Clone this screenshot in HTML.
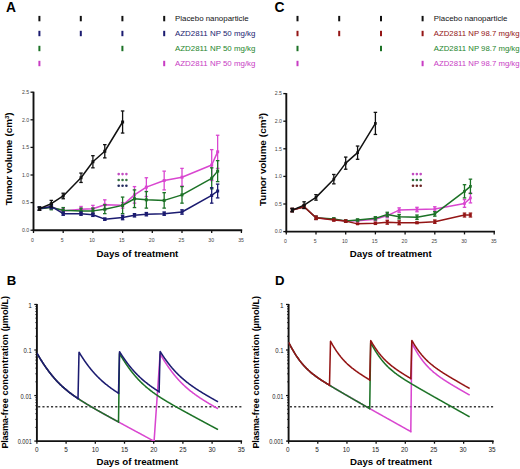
<!DOCTYPE html>
<html><head><meta charset="utf-8"><style>
html,body{margin:0;padding:0;background:#fff;}
body{width:520px;height:469px;overflow:hidden;font-family:"Liberation Sans", sans-serif;}
svg{display:block;}
</style></head><body>
<svg width="520" height="469" viewBox="0 0 520 469" font-family='"Liberation Sans", sans-serif'>
<rect width="520" height="469" fill="#fff"/>
<text x="6.00" y="11.90" font-size="13.8" fill="#000" font-weight="bold" text-anchor="start" >A</text>
<rect x="38.40" y="15.90" width="2.0" height="5.4" fill="#111111"/>
<rect x="79.80" y="15.90" width="2.0" height="5.4" fill="#111111"/>
<rect x="121.40" y="15.90" width="2.0" height="5.4" fill="#111111"/>
<rect x="163.20" y="15.90" width="2.0" height="5.4" fill="#111111"/>
<text x="175.00" y="21.40" font-size="7.9" fill="#111111" font-weight="normal" text-anchor="start" >Placebo nanoparticle</text>
<rect x="38.40" y="30.80" width="2.0" height="5.4" fill="#1b1b70"/>
<rect x="79.80" y="30.80" width="2.0" height="5.4" fill="#1b1b70"/>
<rect x="121.40" y="30.80" width="2.0" height="5.4" fill="#1b1b70"/>
<rect x="163.20" y="30.80" width="2.0" height="5.4" fill="#1b1b70"/>
<text x="175.00" y="36.30" font-size="7.9" fill="#1b1b70" font-weight="normal" text-anchor="start" >AZD2811 NP 50 mg/kg</text>
<rect x="38.40" y="45.80" width="2.0" height="5.4" fill="#1c7226"/>
<rect x="121.40" y="45.80" width="2.0" height="5.4" fill="#1c7226"/>
<text x="175.00" y="51.30" font-size="7.9" fill="#25852c" font-weight="normal" text-anchor="start" >AZD2811 NP 50 mg/kg</text>
<rect x="38.40" y="60.80" width="2.0" height="5.4" fill="#c83cc4"/>
<rect x="163.20" y="60.80" width="2.0" height="5.4" fill="#c83cc4"/>
<text x="175.00" y="66.30" font-size="7.9" fill="#c83cc4" font-weight="normal" text-anchor="start" >AZD2811 NP 50 mg/kg</text>
<line x1="33.50" y1="91.70" x2="33.50" y2="231.00" stroke="#111111" stroke-width="1.9" />
<line x1="32.70" y1="230.20" x2="242.20" y2="230.20" stroke="#111111" stroke-width="1.9" />
<line x1="30.50" y1="230.20" x2="33.50" y2="230.20" stroke="#111111" stroke-width="1.3" />
<text x="29.20" y="232.00" font-size="5.2" fill="#444444" font-weight="normal" text-anchor="end" >0.0</text>
<line x1="30.50" y1="202.60" x2="33.50" y2="202.60" stroke="#111111" stroke-width="1.3" />
<text x="29.20" y="204.40" font-size="5.2" fill="#444444" font-weight="normal" text-anchor="end" >0.5</text>
<line x1="30.50" y1="175.00" x2="33.50" y2="175.00" stroke="#111111" stroke-width="1.3" />
<text x="29.20" y="176.80" font-size="5.2" fill="#444444" font-weight="normal" text-anchor="end" >1.0</text>
<line x1="30.50" y1="147.40" x2="33.50" y2="147.40" stroke="#111111" stroke-width="1.3" />
<text x="29.20" y="149.20" font-size="5.2" fill="#444444" font-weight="normal" text-anchor="end" >1.5</text>
<line x1="30.50" y1="119.80" x2="33.50" y2="119.80" stroke="#111111" stroke-width="1.3" />
<text x="29.20" y="121.60" font-size="5.2" fill="#444444" font-weight="normal" text-anchor="end" >2.0</text>
<line x1="30.50" y1="92.20" x2="33.50" y2="92.20" stroke="#111111" stroke-width="1.3" />
<text x="29.20" y="94.00" font-size="5.2" fill="#444444" font-weight="normal" text-anchor="end" >2.5</text>
<line x1="33.50" y1="230.20" x2="33.50" y2="233.00" stroke="#111111" stroke-width="1.3" />
<text x="32.50" y="241.80" font-size="5.1" fill="#444444" font-weight="normal" text-anchor="middle" >0</text>
<line x1="63.20" y1="230.20" x2="63.20" y2="233.00" stroke="#111111" stroke-width="1.3" />
<text x="62.29" y="241.80" font-size="5.1" fill="#444444" font-weight="normal" text-anchor="middle" >5</text>
<line x1="92.90" y1="230.20" x2="92.90" y2="233.00" stroke="#111111" stroke-width="1.3" />
<text x="92.07" y="241.80" font-size="5.1" fill="#444444" font-weight="normal" text-anchor="middle" >10</text>
<line x1="122.60" y1="230.20" x2="122.60" y2="233.00" stroke="#111111" stroke-width="1.3" />
<text x="121.86" y="241.80" font-size="5.1" fill="#444444" font-weight="normal" text-anchor="middle" >15</text>
<line x1="152.30" y1="230.20" x2="152.30" y2="233.00" stroke="#111111" stroke-width="1.3" />
<text x="151.64" y="241.80" font-size="5.1" fill="#444444" font-weight="normal" text-anchor="middle" >20</text>
<line x1="182.00" y1="230.20" x2="182.00" y2="233.00" stroke="#111111" stroke-width="1.3" />
<text x="181.43" y="241.80" font-size="5.1" fill="#444444" font-weight="normal" text-anchor="middle" >25</text>
<line x1="211.70" y1="230.20" x2="211.70" y2="233.00" stroke="#111111" stroke-width="1.3" />
<text x="211.21" y="241.80" font-size="5.1" fill="#444444" font-weight="normal" text-anchor="middle" >30</text>
<line x1="241.40" y1="230.20" x2="241.40" y2="233.00" stroke="#111111" stroke-width="1.3" />
<text x="241.00" y="241.80" font-size="5.1" fill="#444444" font-weight="normal" text-anchor="middle" >35</text>
<polyline points="39.44,208.67 51.32,207.02 63.20,210.88 81.02,209.22 92.90,208.67 104.78,204.81 122.60,205.36 134.48,194.87 146.36,187.14 164.18,180.52 182.00,177.21 211.70,165.06 217.64,151.82" fill="none" stroke="#d946d0" stroke-width="1.5" stroke-linejoin="round" />
<line x1="39.44" y1="207.02" x2="39.44" y2="210.33" stroke="#d946d0" stroke-width="1.3" />
<line x1="37.69" y1="207.02" x2="41.19" y2="207.02" stroke="#d946d0" stroke-width="1.3" />
<line x1="37.69" y1="210.33" x2="41.19" y2="210.33" stroke="#d946d0" stroke-width="1.3" />
<rect x="37.94" y="207.17" width="3.0" height="3.0" fill="#d946d0"/>
<line x1="51.32" y1="204.81" x2="51.32" y2="209.22" stroke="#d946d0" stroke-width="1.3" />
<line x1="49.57" y1="204.81" x2="53.07" y2="204.81" stroke="#d946d0" stroke-width="1.3" />
<line x1="49.57" y1="209.22" x2="53.07" y2="209.22" stroke="#d946d0" stroke-width="1.3" />
<rect x="49.82" y="205.52" width="3.0" height="3.0" fill="#d946d0"/>
<line x1="63.20" y1="208.67" x2="63.20" y2="213.09" stroke="#d946d0" stroke-width="1.3" />
<line x1="61.45" y1="208.67" x2="64.95" y2="208.67" stroke="#d946d0" stroke-width="1.3" />
<line x1="61.45" y1="213.09" x2="64.95" y2="213.09" stroke="#d946d0" stroke-width="1.3" />
<rect x="61.70" y="209.38" width="3.0" height="3.0" fill="#d946d0"/>
<line x1="81.02" y1="206.46" x2="81.02" y2="211.98" stroke="#d946d0" stroke-width="1.3" />
<line x1="79.27" y1="206.46" x2="82.77" y2="206.46" stroke="#d946d0" stroke-width="1.3" />
<line x1="79.27" y1="211.98" x2="82.77" y2="211.98" stroke="#d946d0" stroke-width="1.3" />
<rect x="79.52" y="207.72" width="3.0" height="3.0" fill="#d946d0"/>
<line x1="92.90" y1="205.36" x2="92.90" y2="211.98" stroke="#d946d0" stroke-width="1.3" />
<line x1="91.15" y1="205.36" x2="94.65" y2="205.36" stroke="#d946d0" stroke-width="1.3" />
<line x1="91.15" y1="211.98" x2="94.65" y2="211.98" stroke="#d946d0" stroke-width="1.3" />
<rect x="91.40" y="207.17" width="3.0" height="3.0" fill="#d946d0"/>
<line x1="104.78" y1="199.84" x2="104.78" y2="209.78" stroke="#d946d0" stroke-width="1.3" />
<line x1="103.03" y1="199.84" x2="106.53" y2="199.84" stroke="#d946d0" stroke-width="1.3" />
<line x1="103.03" y1="209.78" x2="106.53" y2="209.78" stroke="#d946d0" stroke-width="1.3" />
<rect x="103.28" y="203.31" width="3.0" height="3.0" fill="#d946d0"/>
<line x1="122.60" y1="202.60" x2="122.60" y2="208.12" stroke="#d946d0" stroke-width="1.3" />
<line x1="120.85" y1="202.60" x2="124.35" y2="202.60" stroke="#d946d0" stroke-width="1.3" />
<line x1="120.85" y1="208.12" x2="124.35" y2="208.12" stroke="#d946d0" stroke-width="1.3" />
<rect x="121.10" y="203.86" width="3.0" height="3.0" fill="#d946d0"/>
<line x1="134.48" y1="186.59" x2="134.48" y2="203.15" stroke="#d946d0" stroke-width="1.3" />
<line x1="132.73" y1="186.59" x2="136.23" y2="186.59" stroke="#d946d0" stroke-width="1.3" />
<line x1="132.73" y1="203.15" x2="136.23" y2="203.15" stroke="#d946d0" stroke-width="1.3" />
<rect x="132.98" y="193.37" width="3.0" height="3.0" fill="#d946d0"/>
<line x1="146.36" y1="177.76" x2="146.36" y2="196.53" stroke="#d946d0" stroke-width="1.3" />
<line x1="144.61" y1="177.76" x2="148.11" y2="177.76" stroke="#d946d0" stroke-width="1.3" />
<line x1="144.61" y1="196.53" x2="148.11" y2="196.53" stroke="#d946d0" stroke-width="1.3" />
<rect x="144.86" y="185.64" width="3.0" height="3.0" fill="#d946d0"/>
<line x1="164.18" y1="171.14" x2="164.18" y2="189.90" stroke="#d946d0" stroke-width="1.3" />
<line x1="162.43" y1="171.14" x2="165.93" y2="171.14" stroke="#d946d0" stroke-width="1.3" />
<line x1="162.43" y1="189.90" x2="165.93" y2="189.90" stroke="#d946d0" stroke-width="1.3" />
<rect x="162.68" y="179.02" width="3.0" height="3.0" fill="#d946d0"/>
<line x1="182.00" y1="168.38" x2="182.00" y2="186.04" stroke="#d946d0" stroke-width="1.3" />
<line x1="180.25" y1="168.38" x2="183.75" y2="168.38" stroke="#d946d0" stroke-width="1.3" />
<line x1="180.25" y1="186.04" x2="183.75" y2="186.04" stroke="#d946d0" stroke-width="1.3" />
<rect x="180.50" y="175.71" width="3.0" height="3.0" fill="#d946d0"/>
<line x1="211.70" y1="149.61" x2="211.70" y2="180.52" stroke="#d946d0" stroke-width="1.3" />
<line x1="209.95" y1="149.61" x2="213.45" y2="149.61" stroke="#d946d0" stroke-width="1.3" />
<line x1="209.95" y1="180.52" x2="213.45" y2="180.52" stroke="#d946d0" stroke-width="1.3" />
<rect x="210.20" y="163.56" width="3.0" height="3.0" fill="#d946d0"/>
<line x1="217.64" y1="135.26" x2="217.64" y2="168.38" stroke="#d946d0" stroke-width="1.3" />
<line x1="215.89" y1="135.26" x2="219.39" y2="135.26" stroke="#d946d0" stroke-width="1.3" />
<line x1="215.89" y1="168.38" x2="219.39" y2="168.38" stroke="#d946d0" stroke-width="1.3" />
<rect x="216.14" y="150.32" width="3.0" height="3.0" fill="#d946d0"/>
<polyline points="39.44,208.67 51.32,207.57 63.20,210.33 81.02,210.88 92.90,210.88 104.78,209.22 122.60,205.36 134.48,198.74 146.36,199.84 164.18,200.39 182.00,194.87 211.70,178.31 217.64,171.14" fill="none" stroke="#1c7226" stroke-width="1.5" stroke-linejoin="round" />
<line x1="39.44" y1="207.02" x2="39.44" y2="210.33" stroke="#1c7226" stroke-width="1.3" />
<line x1="37.69" y1="207.02" x2="41.19" y2="207.02" stroke="#1c7226" stroke-width="1.3" />
<line x1="37.69" y1="210.33" x2="41.19" y2="210.33" stroke="#1c7226" stroke-width="1.3" />
<rect x="37.94" y="207.17" width="3.0" height="3.0" fill="#1c7226"/>
<line x1="51.32" y1="205.36" x2="51.32" y2="209.78" stroke="#1c7226" stroke-width="1.3" />
<line x1="49.57" y1="205.36" x2="53.07" y2="205.36" stroke="#1c7226" stroke-width="1.3" />
<line x1="49.57" y1="209.78" x2="53.07" y2="209.78" stroke="#1c7226" stroke-width="1.3" />
<rect x="49.82" y="206.07" width="3.0" height="3.0" fill="#1c7226"/>
<line x1="63.20" y1="207.57" x2="63.20" y2="213.09" stroke="#1c7226" stroke-width="1.3" />
<line x1="61.45" y1="207.57" x2="64.95" y2="207.57" stroke="#1c7226" stroke-width="1.3" />
<line x1="61.45" y1="213.09" x2="64.95" y2="213.09" stroke="#1c7226" stroke-width="1.3" />
<rect x="61.70" y="208.83" width="3.0" height="3.0" fill="#1c7226"/>
<line x1="81.02" y1="208.12" x2="81.02" y2="213.64" stroke="#1c7226" stroke-width="1.3" />
<line x1="79.27" y1="208.12" x2="82.77" y2="208.12" stroke="#1c7226" stroke-width="1.3" />
<line x1="79.27" y1="213.64" x2="82.77" y2="213.64" stroke="#1c7226" stroke-width="1.3" />
<rect x="79.52" y="209.38" width="3.0" height="3.0" fill="#1c7226"/>
<line x1="92.90" y1="208.12" x2="92.90" y2="213.64" stroke="#1c7226" stroke-width="1.3" />
<line x1="91.15" y1="208.12" x2="94.65" y2="208.12" stroke="#1c7226" stroke-width="1.3" />
<line x1="91.15" y1="213.64" x2="94.65" y2="213.64" stroke="#1c7226" stroke-width="1.3" />
<rect x="91.40" y="209.38" width="3.0" height="3.0" fill="#1c7226"/>
<line x1="104.78" y1="204.81" x2="104.78" y2="213.64" stroke="#1c7226" stroke-width="1.3" />
<line x1="103.03" y1="204.81" x2="106.53" y2="204.81" stroke="#1c7226" stroke-width="1.3" />
<line x1="103.03" y1="213.64" x2="106.53" y2="213.64" stroke="#1c7226" stroke-width="1.3" />
<rect x="103.28" y="207.72" width="3.0" height="3.0" fill="#1c7226"/>
<line x1="122.60" y1="197.08" x2="122.60" y2="213.64" stroke="#1c7226" stroke-width="1.3" />
<line x1="120.85" y1="197.08" x2="124.35" y2="197.08" stroke="#1c7226" stroke-width="1.3" />
<line x1="120.85" y1="213.64" x2="124.35" y2="213.64" stroke="#1c7226" stroke-width="1.3" />
<rect x="121.10" y="203.86" width="3.0" height="3.0" fill="#1c7226"/>
<line x1="134.48" y1="189.90" x2="134.48" y2="207.57" stroke="#1c7226" stroke-width="1.3" />
<line x1="132.73" y1="189.90" x2="136.23" y2="189.90" stroke="#1c7226" stroke-width="1.3" />
<line x1="132.73" y1="207.57" x2="136.23" y2="207.57" stroke="#1c7226" stroke-width="1.3" />
<rect x="132.98" y="197.24" width="3.0" height="3.0" fill="#1c7226"/>
<line x1="146.36" y1="191.56" x2="146.36" y2="208.12" stroke="#1c7226" stroke-width="1.3" />
<line x1="144.61" y1="191.56" x2="148.11" y2="191.56" stroke="#1c7226" stroke-width="1.3" />
<line x1="144.61" y1="208.12" x2="148.11" y2="208.12" stroke="#1c7226" stroke-width="1.3" />
<rect x="144.86" y="198.34" width="3.0" height="3.0" fill="#1c7226"/>
<line x1="164.18" y1="192.66" x2="164.18" y2="208.12" stroke="#1c7226" stroke-width="1.3" />
<line x1="162.43" y1="192.66" x2="165.93" y2="192.66" stroke="#1c7226" stroke-width="1.3" />
<line x1="162.43" y1="208.12" x2="165.93" y2="208.12" stroke="#1c7226" stroke-width="1.3" />
<rect x="162.68" y="198.89" width="3.0" height="3.0" fill="#1c7226"/>
<line x1="182.00" y1="186.59" x2="182.00" y2="203.15" stroke="#1c7226" stroke-width="1.3" />
<line x1="180.25" y1="186.59" x2="183.75" y2="186.59" stroke="#1c7226" stroke-width="1.3" />
<line x1="180.25" y1="203.15" x2="183.75" y2="203.15" stroke="#1c7226" stroke-width="1.3" />
<rect x="180.50" y="193.37" width="3.0" height="3.0" fill="#1c7226"/>
<line x1="211.70" y1="167.82" x2="211.70" y2="188.80" stroke="#1c7226" stroke-width="1.3" />
<line x1="209.95" y1="167.82" x2="213.45" y2="167.82" stroke="#1c7226" stroke-width="1.3" />
<line x1="209.95" y1="188.80" x2="213.45" y2="188.80" stroke="#1c7226" stroke-width="1.3" />
<rect x="210.20" y="176.81" width="3.0" height="3.0" fill="#1c7226"/>
<line x1="217.64" y1="160.65" x2="217.64" y2="181.62" stroke="#1c7226" stroke-width="1.3" />
<line x1="215.89" y1="160.65" x2="219.39" y2="160.65" stroke="#1c7226" stroke-width="1.3" />
<line x1="215.89" y1="181.62" x2="219.39" y2="181.62" stroke="#1c7226" stroke-width="1.3" />
<rect x="216.14" y="169.64" width="3.0" height="3.0" fill="#1c7226"/>
<polyline points="39.44,208.67 51.32,206.46 63.20,213.64 81.02,213.64 92.90,214.74 104.78,219.16 122.60,217.50 134.48,215.30 146.36,214.19 164.18,213.64 182.00,211.98 211.70,195.42 217.64,191.01" fill="none" stroke="#1b1b70" stroke-width="1.5" stroke-linejoin="round" />
<line x1="39.44" y1="207.02" x2="39.44" y2="210.33" stroke="#1b1b70" stroke-width="1.3" />
<line x1="37.69" y1="207.02" x2="41.19" y2="207.02" stroke="#1b1b70" stroke-width="1.3" />
<line x1="37.69" y1="210.33" x2="41.19" y2="210.33" stroke="#1b1b70" stroke-width="1.3" />
<rect x="37.94" y="207.17" width="3.0" height="3.0" fill="#1b1b70"/>
<line x1="51.32" y1="204.26" x2="51.32" y2="208.67" stroke="#1b1b70" stroke-width="1.3" />
<line x1="49.57" y1="204.26" x2="53.07" y2="204.26" stroke="#1b1b70" stroke-width="1.3" />
<line x1="49.57" y1="208.67" x2="53.07" y2="208.67" stroke="#1b1b70" stroke-width="1.3" />
<rect x="49.82" y="204.96" width="3.0" height="3.0" fill="#1b1b70"/>
<line x1="63.20" y1="211.98" x2="63.20" y2="215.30" stroke="#1b1b70" stroke-width="1.3" />
<line x1="61.45" y1="211.98" x2="64.95" y2="211.98" stroke="#1b1b70" stroke-width="1.3" />
<line x1="61.45" y1="215.30" x2="64.95" y2="215.30" stroke="#1b1b70" stroke-width="1.3" />
<rect x="61.70" y="212.14" width="3.0" height="3.0" fill="#1b1b70"/>
<line x1="81.02" y1="211.98" x2="81.02" y2="215.30" stroke="#1b1b70" stroke-width="1.3" />
<line x1="79.27" y1="211.98" x2="82.77" y2="211.98" stroke="#1b1b70" stroke-width="1.3" />
<line x1="79.27" y1="215.30" x2="82.77" y2="215.30" stroke="#1b1b70" stroke-width="1.3" />
<rect x="79.52" y="212.14" width="3.0" height="3.0" fill="#1b1b70"/>
<line x1="92.90" y1="213.09" x2="92.90" y2="216.40" stroke="#1b1b70" stroke-width="1.3" />
<line x1="91.15" y1="213.09" x2="94.65" y2="213.09" stroke="#1b1b70" stroke-width="1.3" />
<line x1="91.15" y1="216.40" x2="94.65" y2="216.40" stroke="#1b1b70" stroke-width="1.3" />
<rect x="91.40" y="213.24" width="3.0" height="3.0" fill="#1b1b70"/>
<line x1="104.78" y1="218.06" x2="104.78" y2="220.26" stroke="#1b1b70" stroke-width="1.3" />
<line x1="103.03" y1="218.06" x2="106.53" y2="218.06" stroke="#1b1b70" stroke-width="1.3" />
<line x1="103.03" y1="220.26" x2="106.53" y2="220.26" stroke="#1b1b70" stroke-width="1.3" />
<rect x="103.28" y="217.66" width="3.0" height="3.0" fill="#1b1b70"/>
<line x1="122.60" y1="215.30" x2="122.60" y2="219.71" stroke="#1b1b70" stroke-width="1.3" />
<line x1="120.85" y1="215.30" x2="124.35" y2="215.30" stroke="#1b1b70" stroke-width="1.3" />
<line x1="120.85" y1="219.71" x2="124.35" y2="219.71" stroke="#1b1b70" stroke-width="1.3" />
<rect x="121.10" y="216.00" width="3.0" height="3.0" fill="#1b1b70"/>
<line x1="134.48" y1="213.64" x2="134.48" y2="216.95" stroke="#1b1b70" stroke-width="1.3" />
<line x1="132.73" y1="213.64" x2="136.23" y2="213.64" stroke="#1b1b70" stroke-width="1.3" />
<line x1="132.73" y1="216.95" x2="136.23" y2="216.95" stroke="#1b1b70" stroke-width="1.3" />
<rect x="132.98" y="213.80" width="3.0" height="3.0" fill="#1b1b70"/>
<line x1="146.36" y1="212.54" x2="146.36" y2="215.85" stroke="#1b1b70" stroke-width="1.3" />
<line x1="144.61" y1="212.54" x2="148.11" y2="212.54" stroke="#1b1b70" stroke-width="1.3" />
<line x1="144.61" y1="215.85" x2="148.11" y2="215.85" stroke="#1b1b70" stroke-width="1.3" />
<rect x="144.86" y="212.69" width="3.0" height="3.0" fill="#1b1b70"/>
<line x1="164.18" y1="211.98" x2="164.18" y2="215.30" stroke="#1b1b70" stroke-width="1.3" />
<line x1="162.43" y1="211.98" x2="165.93" y2="211.98" stroke="#1b1b70" stroke-width="1.3" />
<line x1="162.43" y1="215.30" x2="165.93" y2="215.30" stroke="#1b1b70" stroke-width="1.3" />
<rect x="162.68" y="212.14" width="3.0" height="3.0" fill="#1b1b70"/>
<line x1="182.00" y1="209.78" x2="182.00" y2="214.19" stroke="#1b1b70" stroke-width="1.3" />
<line x1="180.25" y1="209.78" x2="183.75" y2="209.78" stroke="#1b1b70" stroke-width="1.3" />
<line x1="180.25" y1="214.19" x2="183.75" y2="214.19" stroke="#1b1b70" stroke-width="1.3" />
<rect x="180.50" y="210.48" width="3.0" height="3.0" fill="#1b1b70"/>
<line x1="211.70" y1="187.70" x2="211.70" y2="203.15" stroke="#1b1b70" stroke-width="1.3" />
<line x1="209.95" y1="187.70" x2="213.45" y2="187.70" stroke="#1b1b70" stroke-width="1.3" />
<line x1="209.95" y1="203.15" x2="213.45" y2="203.15" stroke="#1b1b70" stroke-width="1.3" />
<rect x="210.20" y="193.92" width="3.0" height="3.0" fill="#1b1b70"/>
<line x1="217.64" y1="184.11" x2="217.64" y2="197.91" stroke="#1b1b70" stroke-width="1.3" />
<line x1="215.89" y1="184.11" x2="219.39" y2="184.11" stroke="#1b1b70" stroke-width="1.3" />
<line x1="215.89" y1="197.91" x2="219.39" y2="197.91" stroke="#1b1b70" stroke-width="1.3" />
<rect x="216.14" y="189.51" width="3.0" height="3.0" fill="#1b1b70"/>
<polyline points="39.44,208.67 51.32,203.70 63.20,195.98 81.02,177.76 92.90,161.75 104.78,151.26 122.60,122.01" fill="none" stroke="#111111" stroke-width="1.5" stroke-linejoin="round" />
<line x1="39.44" y1="207.02" x2="39.44" y2="210.33" stroke="#111111" stroke-width="1.3" />
<line x1="37.69" y1="207.02" x2="41.19" y2="207.02" stroke="#111111" stroke-width="1.3" />
<line x1="37.69" y1="210.33" x2="41.19" y2="210.33" stroke="#111111" stroke-width="1.3" />
<rect x="37.94" y="207.17" width="3.0" height="3.0" fill="#111111"/>
<line x1="51.32" y1="200.39" x2="51.32" y2="207.02" stroke="#111111" stroke-width="1.3" />
<line x1="49.57" y1="200.39" x2="53.07" y2="200.39" stroke="#111111" stroke-width="1.3" />
<line x1="49.57" y1="207.02" x2="53.07" y2="207.02" stroke="#111111" stroke-width="1.3" />
<rect x="49.82" y="202.20" width="3.0" height="3.0" fill="#111111"/>
<line x1="63.20" y1="193.22" x2="63.20" y2="198.74" stroke="#111111" stroke-width="1.3" />
<line x1="61.45" y1="193.22" x2="64.95" y2="193.22" stroke="#111111" stroke-width="1.3" />
<line x1="61.45" y1="198.74" x2="64.95" y2="198.74" stroke="#111111" stroke-width="1.3" />
<rect x="61.70" y="194.48" width="3.0" height="3.0" fill="#111111"/>
<line x1="81.02" y1="173.07" x2="81.02" y2="182.45" stroke="#111111" stroke-width="1.3" />
<line x1="79.27" y1="173.07" x2="82.77" y2="173.07" stroke="#111111" stroke-width="1.3" />
<line x1="79.27" y1="182.45" x2="82.77" y2="182.45" stroke="#111111" stroke-width="1.3" />
<rect x="79.52" y="176.26" width="3.0" height="3.0" fill="#111111"/>
<line x1="92.90" y1="155.68" x2="92.90" y2="167.82" stroke="#111111" stroke-width="1.3" />
<line x1="91.15" y1="155.68" x2="94.65" y2="155.68" stroke="#111111" stroke-width="1.3" />
<line x1="91.15" y1="167.82" x2="94.65" y2="167.82" stroke="#111111" stroke-width="1.3" />
<rect x="91.40" y="160.25" width="3.0" height="3.0" fill="#111111"/>
<line x1="104.78" y1="144.64" x2="104.78" y2="157.89" stroke="#111111" stroke-width="1.3" />
<line x1="103.03" y1="144.64" x2="106.53" y2="144.64" stroke="#111111" stroke-width="1.3" />
<line x1="103.03" y1="157.89" x2="106.53" y2="157.89" stroke="#111111" stroke-width="1.3" />
<rect x="103.28" y="149.76" width="3.0" height="3.0" fill="#111111"/>
<line x1="122.60" y1="110.97" x2="122.60" y2="133.05" stroke="#111111" stroke-width="1.3" />
<line x1="120.85" y1="110.97" x2="124.35" y2="110.97" stroke="#111111" stroke-width="1.3" />
<line x1="120.85" y1="133.05" x2="124.35" y2="133.05" stroke="#111111" stroke-width="1.3" />
<rect x="121.10" y="120.51" width="3.0" height="3.0" fill="#111111"/>
<circle cx="118.70" cy="174.10" r="1.3" fill="#c24cc2"/>
<circle cx="122.55" cy="174.10" r="1.3" fill="#c24cc2"/>
<circle cx="126.40" cy="174.10" r="1.3" fill="#c24cc2"/>
<circle cx="118.70" cy="179.95" r="1.3" fill="#3a7446"/>
<circle cx="122.55" cy="179.95" r="1.3" fill="#3a7446"/>
<circle cx="126.40" cy="179.95" r="1.3" fill="#3a7446"/>
<circle cx="118.70" cy="185.80" r="1.3" fill="#222a5e"/>
<circle cx="122.55" cy="185.80" r="1.3" fill="#222a5e"/>
<circle cx="126.40" cy="185.80" r="1.3" fill="#222a5e"/>
<text x="137.45" y="256.50" font-size="9.7" fill="#000" font-weight="bold" text-anchor="middle" >Days of treatment</text>
<text transform="translate(11.9,205.3) rotate(-90)" font-size="9.9" font-weight="bold"><tspan letter-spacing="-0.15">Tumor volume</tspan><tspan dx="0.5"> (cm</tspan><tspan dy="-3" font-size="6">3</tspan><tspan dy="3">)</tspan></text>
<text x="274.60" y="11.90" font-size="13.8" fill="#000" font-weight="bold" text-anchor="start" >C</text>
<rect x="296.50" y="15.90" width="2.0" height="5.4" fill="#111111"/>
<rect x="338.20" y="15.90" width="2.0" height="5.4" fill="#111111"/>
<rect x="380.00" y="15.90" width="2.0" height="5.4" fill="#111111"/>
<rect x="421.60" y="15.90" width="2.0" height="5.4" fill="#111111"/>
<text x="433.80" y="21.40" font-size="7.9" fill="#111111" font-weight="normal" text-anchor="start" >Placebo nanoparticle</text>
<rect x="296.50" y="30.80" width="2.0" height="5.4" fill="#941515"/>
<rect x="338.20" y="30.80" width="2.0" height="5.4" fill="#941515"/>
<rect x="380.00" y="30.80" width="2.0" height="5.4" fill="#941515"/>
<rect x="421.60" y="30.80" width="2.0" height="5.4" fill="#941515"/>
<text x="433.80" y="36.30" font-size="7.9" fill="#941515" font-weight="normal" text-anchor="start" textLength="85.8" lengthAdjust="spacingAndGlyphs">AZD2811 NP 98.7 mg/kg</text>
<rect x="296.50" y="45.80" width="2.0" height="5.4" fill="#1c7226"/>
<rect x="380.00" y="45.80" width="2.0" height="5.4" fill="#1c7226"/>
<text x="433.80" y="51.30" font-size="7.9" fill="#25852c" font-weight="normal" text-anchor="start" textLength="85.8" lengthAdjust="spacingAndGlyphs">AZD2811 NP 98.7 mg/kg</text>
<rect x="296.50" y="60.80" width="2.0" height="5.4" fill="#c83cc4"/>
<rect x="421.60" y="60.80" width="2.0" height="5.4" fill="#c83cc4"/>
<text x="433.80" y="66.30" font-size="7.9" fill="#c83cc4" font-weight="normal" text-anchor="start" textLength="85.8" lengthAdjust="spacingAndGlyphs">AZD2811 NP 98.7 mg/kg</text>
<line x1="286.30" y1="93.10" x2="286.30" y2="232.40" stroke="#111111" stroke-width="1.9" />
<line x1="285.50" y1="231.60" x2="495.00" y2="231.60" stroke="#111111" stroke-width="1.9" />
<line x1="283.30" y1="231.60" x2="286.30" y2="231.60" stroke="#111111" stroke-width="1.3" />
<text x="282.00" y="233.40" font-size="5.2" fill="#444444" font-weight="normal" text-anchor="end" >0.0</text>
<line x1="283.30" y1="204.00" x2="286.30" y2="204.00" stroke="#111111" stroke-width="1.3" />
<text x="282.00" y="205.80" font-size="5.2" fill="#444444" font-weight="normal" text-anchor="end" >0.5</text>
<line x1="283.30" y1="176.40" x2="286.30" y2="176.40" stroke="#111111" stroke-width="1.3" />
<text x="282.00" y="178.20" font-size="5.2" fill="#444444" font-weight="normal" text-anchor="end" >1.0</text>
<line x1="283.30" y1="148.80" x2="286.30" y2="148.80" stroke="#111111" stroke-width="1.3" />
<text x="282.00" y="150.60" font-size="5.2" fill="#444444" font-weight="normal" text-anchor="end" >1.5</text>
<line x1="283.30" y1="121.20" x2="286.30" y2="121.20" stroke="#111111" stroke-width="1.3" />
<text x="282.00" y="123.00" font-size="5.2" fill="#444444" font-weight="normal" text-anchor="end" >2.0</text>
<line x1="283.30" y1="93.60" x2="286.30" y2="93.60" stroke="#111111" stroke-width="1.3" />
<text x="282.00" y="95.40" font-size="5.2" fill="#444444" font-weight="normal" text-anchor="end" >2.5</text>
<line x1="286.30" y1="231.60" x2="286.30" y2="234.40" stroke="#111111" stroke-width="1.3" />
<text x="285.30" y="243.20" font-size="5.1" fill="#444444" font-weight="normal" text-anchor="middle" >0</text>
<line x1="316.00" y1="231.60" x2="316.00" y2="234.40" stroke="#111111" stroke-width="1.3" />
<text x="315.08" y="243.20" font-size="5.1" fill="#444444" font-weight="normal" text-anchor="middle" >5</text>
<line x1="345.70" y1="231.60" x2="345.70" y2="234.40" stroke="#111111" stroke-width="1.3" />
<text x="344.87" y="243.20" font-size="5.1" fill="#444444" font-weight="normal" text-anchor="middle" >10</text>
<line x1="375.40" y1="231.60" x2="375.40" y2="234.40" stroke="#111111" stroke-width="1.3" />
<text x="374.66" y="243.20" font-size="5.1" fill="#444444" font-weight="normal" text-anchor="middle" >15</text>
<line x1="405.10" y1="231.60" x2="405.10" y2="234.40" stroke="#111111" stroke-width="1.3" />
<text x="404.44" y="243.20" font-size="5.1" fill="#444444" font-weight="normal" text-anchor="middle" >20</text>
<line x1="434.80" y1="231.60" x2="434.80" y2="234.40" stroke="#111111" stroke-width="1.3" />
<text x="434.23" y="243.20" font-size="5.1" fill="#444444" font-weight="normal" text-anchor="middle" >25</text>
<line x1="464.50" y1="231.60" x2="464.50" y2="234.40" stroke="#111111" stroke-width="1.3" />
<text x="464.01" y="243.20" font-size="5.1" fill="#444444" font-weight="normal" text-anchor="middle" >30</text>
<line x1="494.20" y1="231.60" x2="494.20" y2="234.40" stroke="#111111" stroke-width="1.3" />
<text x="493.80" y="243.20" font-size="5.1" fill="#444444" font-weight="normal" text-anchor="middle" >35</text>
<polyline points="292.24,210.07 304.12,206.76 316.00,217.80 333.82,219.46 345.70,221.11 357.58,220.84 375.40,219.18 387.28,215.59 399.16,210.07 416.98,209.52 434.80,208.97 464.50,203.45 470.44,197.93" fill="none" stroke="#d946d0" stroke-width="1.5" stroke-linejoin="round" />
<line x1="292.24" y1="208.42" x2="292.24" y2="211.73" stroke="#d946d0" stroke-width="1.3" />
<line x1="290.49" y1="208.42" x2="293.99" y2="208.42" stroke="#d946d0" stroke-width="1.3" />
<line x1="290.49" y1="211.73" x2="293.99" y2="211.73" stroke="#d946d0" stroke-width="1.3" />
<rect x="290.89" y="208.72" width="2.7" height="2.7" fill="#d946d0"/>
<line x1="304.12" y1="205.10" x2="304.12" y2="208.42" stroke="#d946d0" stroke-width="1.3" />
<line x1="302.37" y1="205.10" x2="305.87" y2="205.10" stroke="#d946d0" stroke-width="1.3" />
<line x1="302.37" y1="208.42" x2="305.87" y2="208.42" stroke="#d946d0" stroke-width="1.3" />
<rect x="302.77" y="205.41" width="2.7" height="2.7" fill="#d946d0"/>
<line x1="316.00" y1="216.14" x2="316.00" y2="219.46" stroke="#d946d0" stroke-width="1.3" />
<line x1="314.25" y1="216.14" x2="317.75" y2="216.14" stroke="#d946d0" stroke-width="1.3" />
<line x1="314.25" y1="219.46" x2="317.75" y2="219.46" stroke="#d946d0" stroke-width="1.3" />
<rect x="314.65" y="216.45" width="2.7" height="2.7" fill="#d946d0"/>
<line x1="333.82" y1="218.35" x2="333.82" y2="220.56" stroke="#d946d0" stroke-width="1.3" />
<line x1="332.07" y1="218.35" x2="335.57" y2="218.35" stroke="#d946d0" stroke-width="1.3" />
<line x1="332.07" y1="220.56" x2="335.57" y2="220.56" stroke="#d946d0" stroke-width="1.3" />
<rect x="332.47" y="218.11" width="2.7" height="2.7" fill="#d946d0"/>
<line x1="345.70" y1="220.01" x2="345.70" y2="222.22" stroke="#d946d0" stroke-width="1.3" />
<line x1="343.95" y1="220.01" x2="347.45" y2="220.01" stroke="#d946d0" stroke-width="1.3" />
<line x1="343.95" y1="222.22" x2="347.45" y2="222.22" stroke="#d946d0" stroke-width="1.3" />
<rect x="344.35" y="219.76" width="2.7" height="2.7" fill="#d946d0"/>
<line x1="357.58" y1="219.73" x2="357.58" y2="221.94" stroke="#d946d0" stroke-width="1.3" />
<line x1="355.83" y1="219.73" x2="359.33" y2="219.73" stroke="#d946d0" stroke-width="1.3" />
<line x1="355.83" y1="221.94" x2="359.33" y2="221.94" stroke="#d946d0" stroke-width="1.3" />
<rect x="356.23" y="219.49" width="2.7" height="2.7" fill="#d946d0"/>
<line x1="375.40" y1="217.52" x2="375.40" y2="220.84" stroke="#d946d0" stroke-width="1.3" />
<line x1="373.65" y1="217.52" x2="377.15" y2="217.52" stroke="#d946d0" stroke-width="1.3" />
<line x1="373.65" y1="220.84" x2="377.15" y2="220.84" stroke="#d946d0" stroke-width="1.3" />
<rect x="374.05" y="217.83" width="2.7" height="2.7" fill="#d946d0"/>
<line x1="387.28" y1="213.38" x2="387.28" y2="217.80" stroke="#d946d0" stroke-width="1.3" />
<line x1="385.53" y1="213.38" x2="389.03" y2="213.38" stroke="#d946d0" stroke-width="1.3" />
<line x1="385.53" y1="217.80" x2="389.03" y2="217.80" stroke="#d946d0" stroke-width="1.3" />
<rect x="385.93" y="214.24" width="2.7" height="2.7" fill="#d946d0"/>
<line x1="399.16" y1="207.86" x2="399.16" y2="212.28" stroke="#d946d0" stroke-width="1.3" />
<line x1="397.41" y1="207.86" x2="400.91" y2="207.86" stroke="#d946d0" stroke-width="1.3" />
<line x1="397.41" y1="212.28" x2="400.91" y2="212.28" stroke="#d946d0" stroke-width="1.3" />
<rect x="397.81" y="208.72" width="2.7" height="2.7" fill="#d946d0"/>
<line x1="416.98" y1="207.31" x2="416.98" y2="211.73" stroke="#d946d0" stroke-width="1.3" />
<line x1="415.23" y1="207.31" x2="418.73" y2="207.31" stroke="#d946d0" stroke-width="1.3" />
<line x1="415.23" y1="211.73" x2="418.73" y2="211.73" stroke="#d946d0" stroke-width="1.3" />
<rect x="415.63" y="208.17" width="2.7" height="2.7" fill="#d946d0"/>
<line x1="434.80" y1="206.76" x2="434.80" y2="211.18" stroke="#d946d0" stroke-width="1.3" />
<line x1="433.05" y1="206.76" x2="436.55" y2="206.76" stroke="#d946d0" stroke-width="1.3" />
<line x1="433.05" y1="211.18" x2="436.55" y2="211.18" stroke="#d946d0" stroke-width="1.3" />
<rect x="433.45" y="207.62" width="2.7" height="2.7" fill="#d946d0"/>
<line x1="464.50" y1="199.58" x2="464.50" y2="207.31" stroke="#d946d0" stroke-width="1.3" />
<line x1="462.75" y1="199.58" x2="466.25" y2="199.58" stroke="#d946d0" stroke-width="1.3" />
<line x1="462.75" y1="207.31" x2="466.25" y2="207.31" stroke="#d946d0" stroke-width="1.3" />
<rect x="463.15" y="202.10" width="2.7" height="2.7" fill="#d946d0"/>
<line x1="470.44" y1="192.96" x2="470.44" y2="202.90" stroke="#d946d0" stroke-width="1.3" />
<line x1="468.69" y1="192.96" x2="472.19" y2="192.96" stroke="#d946d0" stroke-width="1.3" />
<line x1="468.69" y1="202.90" x2="472.19" y2="202.90" stroke="#d946d0" stroke-width="1.3" />
<rect x="469.09" y="196.58" width="2.7" height="2.7" fill="#d946d0"/>
<polyline points="292.24,210.07 304.12,206.76 316.00,217.80 333.82,218.90 345.70,221.11 357.58,220.01 375.40,218.35 387.28,214.49 399.16,216.70 416.98,217.25 434.80,213.94 464.50,191.30 470.44,186.34" fill="none" stroke="#1c7226" stroke-width="1.5" stroke-linejoin="round" />
<line x1="292.24" y1="208.42" x2="292.24" y2="211.73" stroke="#1c7226" stroke-width="1.3" />
<line x1="290.49" y1="208.42" x2="293.99" y2="208.42" stroke="#1c7226" stroke-width="1.3" />
<line x1="290.49" y1="211.73" x2="293.99" y2="211.73" stroke="#1c7226" stroke-width="1.3" />
<rect x="290.89" y="208.72" width="2.7" height="2.7" fill="#1c7226"/>
<line x1="304.12" y1="205.10" x2="304.12" y2="208.42" stroke="#1c7226" stroke-width="1.3" />
<line x1="302.37" y1="205.10" x2="305.87" y2="205.10" stroke="#1c7226" stroke-width="1.3" />
<line x1="302.37" y1="208.42" x2="305.87" y2="208.42" stroke="#1c7226" stroke-width="1.3" />
<rect x="302.77" y="205.41" width="2.7" height="2.7" fill="#1c7226"/>
<line x1="316.00" y1="216.14" x2="316.00" y2="219.46" stroke="#1c7226" stroke-width="1.3" />
<line x1="314.25" y1="216.14" x2="317.75" y2="216.14" stroke="#1c7226" stroke-width="1.3" />
<line x1="314.25" y1="219.46" x2="317.75" y2="219.46" stroke="#1c7226" stroke-width="1.3" />
<rect x="314.65" y="216.45" width="2.7" height="2.7" fill="#1c7226"/>
<line x1="333.82" y1="217.80" x2="333.82" y2="220.01" stroke="#1c7226" stroke-width="1.3" />
<line x1="332.07" y1="217.80" x2="335.57" y2="217.80" stroke="#1c7226" stroke-width="1.3" />
<line x1="332.07" y1="220.01" x2="335.57" y2="220.01" stroke="#1c7226" stroke-width="1.3" />
<rect x="332.47" y="217.55" width="2.7" height="2.7" fill="#1c7226"/>
<line x1="345.70" y1="220.01" x2="345.70" y2="222.22" stroke="#1c7226" stroke-width="1.3" />
<line x1="343.95" y1="220.01" x2="347.45" y2="220.01" stroke="#1c7226" stroke-width="1.3" />
<line x1="343.95" y1="222.22" x2="347.45" y2="222.22" stroke="#1c7226" stroke-width="1.3" />
<rect x="344.35" y="219.76" width="2.7" height="2.7" fill="#1c7226"/>
<line x1="357.58" y1="218.90" x2="357.58" y2="221.11" stroke="#1c7226" stroke-width="1.3" />
<line x1="355.83" y1="218.90" x2="359.33" y2="218.90" stroke="#1c7226" stroke-width="1.3" />
<line x1="355.83" y1="221.11" x2="359.33" y2="221.11" stroke="#1c7226" stroke-width="1.3" />
<rect x="356.23" y="218.66" width="2.7" height="2.7" fill="#1c7226"/>
<line x1="375.40" y1="216.70" x2="375.40" y2="220.01" stroke="#1c7226" stroke-width="1.3" />
<line x1="373.65" y1="216.70" x2="377.15" y2="216.70" stroke="#1c7226" stroke-width="1.3" />
<line x1="373.65" y1="220.01" x2="377.15" y2="220.01" stroke="#1c7226" stroke-width="1.3" />
<rect x="374.05" y="217.00" width="2.7" height="2.7" fill="#1c7226"/>
<line x1="387.28" y1="212.28" x2="387.28" y2="216.70" stroke="#1c7226" stroke-width="1.3" />
<line x1="385.53" y1="212.28" x2="389.03" y2="212.28" stroke="#1c7226" stroke-width="1.3" />
<line x1="385.53" y1="216.70" x2="389.03" y2="216.70" stroke="#1c7226" stroke-width="1.3" />
<rect x="385.93" y="213.14" width="2.7" height="2.7" fill="#1c7226"/>
<line x1="399.16" y1="214.49" x2="399.16" y2="218.90" stroke="#1c7226" stroke-width="1.3" />
<line x1="397.41" y1="214.49" x2="400.91" y2="214.49" stroke="#1c7226" stroke-width="1.3" />
<line x1="397.41" y1="218.90" x2="400.91" y2="218.90" stroke="#1c7226" stroke-width="1.3" />
<rect x="397.81" y="215.35" width="2.7" height="2.7" fill="#1c7226"/>
<line x1="416.98" y1="215.04" x2="416.98" y2="219.46" stroke="#1c7226" stroke-width="1.3" />
<line x1="415.23" y1="215.04" x2="418.73" y2="215.04" stroke="#1c7226" stroke-width="1.3" />
<line x1="415.23" y1="219.46" x2="418.73" y2="219.46" stroke="#1c7226" stroke-width="1.3" />
<rect x="415.63" y="215.90" width="2.7" height="2.7" fill="#1c7226"/>
<line x1="434.80" y1="211.73" x2="434.80" y2="216.14" stroke="#1c7226" stroke-width="1.3" />
<line x1="433.05" y1="211.73" x2="436.55" y2="211.73" stroke="#1c7226" stroke-width="1.3" />
<line x1="433.05" y1="216.14" x2="436.55" y2="216.14" stroke="#1c7226" stroke-width="1.3" />
<rect x="433.45" y="212.59" width="2.7" height="2.7" fill="#1c7226"/>
<line x1="464.50" y1="184.68" x2="464.50" y2="197.93" stroke="#1c7226" stroke-width="1.3" />
<line x1="462.75" y1="184.68" x2="466.25" y2="184.68" stroke="#1c7226" stroke-width="1.3" />
<line x1="462.75" y1="197.93" x2="466.25" y2="197.93" stroke="#1c7226" stroke-width="1.3" />
<rect x="463.15" y="189.95" width="2.7" height="2.7" fill="#1c7226"/>
<line x1="470.44" y1="179.16" x2="470.44" y2="193.51" stroke="#1c7226" stroke-width="1.3" />
<line x1="468.69" y1="179.16" x2="472.19" y2="179.16" stroke="#1c7226" stroke-width="1.3" />
<line x1="468.69" y1="193.51" x2="472.19" y2="193.51" stroke="#1c7226" stroke-width="1.3" />
<rect x="469.09" y="184.99" width="2.7" height="2.7" fill="#1c7226"/>
<polyline points="292.24,210.07 304.12,206.76 316.00,217.80 333.82,220.01 345.70,221.11 357.58,223.87 375.40,223.32 387.28,222.22 399.16,222.77 416.98,222.77 434.80,221.66 464.50,215.04 470.44,215.04" fill="none" stroke="#941515" stroke-width="1.5" stroke-linejoin="round" />
<line x1="292.24" y1="208.42" x2="292.24" y2="211.73" stroke="#941515" stroke-width="1.3" />
<line x1="290.49" y1="208.42" x2="293.99" y2="208.42" stroke="#941515" stroke-width="1.3" />
<line x1="290.49" y1="211.73" x2="293.99" y2="211.73" stroke="#941515" stroke-width="1.3" />
<rect x="290.89" y="208.72" width="2.7" height="2.7" fill="#941515"/>
<line x1="304.12" y1="205.10" x2="304.12" y2="208.42" stroke="#941515" stroke-width="1.3" />
<line x1="302.37" y1="205.10" x2="305.87" y2="205.10" stroke="#941515" stroke-width="1.3" />
<line x1="302.37" y1="208.42" x2="305.87" y2="208.42" stroke="#941515" stroke-width="1.3" />
<rect x="302.77" y="205.41" width="2.7" height="2.7" fill="#941515"/>
<line x1="316.00" y1="216.14" x2="316.00" y2="219.46" stroke="#941515" stroke-width="1.3" />
<line x1="314.25" y1="216.14" x2="317.75" y2="216.14" stroke="#941515" stroke-width="1.3" />
<line x1="314.25" y1="219.46" x2="317.75" y2="219.46" stroke="#941515" stroke-width="1.3" />
<rect x="314.65" y="216.45" width="2.7" height="2.7" fill="#941515"/>
<line x1="333.82" y1="218.90" x2="333.82" y2="221.11" stroke="#941515" stroke-width="1.3" />
<line x1="332.07" y1="218.90" x2="335.57" y2="218.90" stroke="#941515" stroke-width="1.3" />
<line x1="332.07" y1="221.11" x2="335.57" y2="221.11" stroke="#941515" stroke-width="1.3" />
<rect x="332.47" y="218.66" width="2.7" height="2.7" fill="#941515"/>
<line x1="345.70" y1="220.01" x2="345.70" y2="222.22" stroke="#941515" stroke-width="1.3" />
<line x1="343.95" y1="220.01" x2="347.45" y2="220.01" stroke="#941515" stroke-width="1.3" />
<line x1="343.95" y1="222.22" x2="347.45" y2="222.22" stroke="#941515" stroke-width="1.3" />
<rect x="344.35" y="219.76" width="2.7" height="2.7" fill="#941515"/>
<line x1="357.58" y1="223.32" x2="357.58" y2="224.42" stroke="#941515" stroke-width="1.3" />
<line x1="355.83" y1="223.32" x2="359.33" y2="223.32" stroke="#941515" stroke-width="1.3" />
<line x1="355.83" y1="224.42" x2="359.33" y2="224.42" stroke="#941515" stroke-width="1.3" />
<rect x="356.23" y="222.52" width="2.7" height="2.7" fill="#941515"/>
<line x1="375.40" y1="222.22" x2="375.40" y2="224.42" stroke="#941515" stroke-width="1.3" />
<line x1="373.65" y1="222.22" x2="377.15" y2="222.22" stroke="#941515" stroke-width="1.3" />
<line x1="373.65" y1="224.42" x2="377.15" y2="224.42" stroke="#941515" stroke-width="1.3" />
<rect x="374.05" y="221.97" width="2.7" height="2.7" fill="#941515"/>
<line x1="387.28" y1="220.28" x2="387.28" y2="224.15" stroke="#941515" stroke-width="1.3" />
<line x1="385.53" y1="220.28" x2="389.03" y2="220.28" stroke="#941515" stroke-width="1.3" />
<line x1="385.53" y1="224.15" x2="389.03" y2="224.15" stroke="#941515" stroke-width="1.3" />
<rect x="385.93" y="220.87" width="2.7" height="2.7" fill="#941515"/>
<line x1="399.16" y1="220.84" x2="399.16" y2="224.70" stroke="#941515" stroke-width="1.3" />
<line x1="397.41" y1="220.84" x2="400.91" y2="220.84" stroke="#941515" stroke-width="1.3" />
<line x1="397.41" y1="224.70" x2="400.91" y2="224.70" stroke="#941515" stroke-width="1.3" />
<rect x="397.81" y="221.42" width="2.7" height="2.7" fill="#941515"/>
<line x1="416.98" y1="221.94" x2="416.98" y2="223.60" stroke="#941515" stroke-width="1.3" />
<line x1="415.23" y1="221.94" x2="418.73" y2="221.94" stroke="#941515" stroke-width="1.3" />
<line x1="415.23" y1="223.60" x2="418.73" y2="223.60" stroke="#941515" stroke-width="1.3" />
<rect x="415.63" y="221.42" width="2.7" height="2.7" fill="#941515"/>
<line x1="434.80" y1="220.01" x2="434.80" y2="223.32" stroke="#941515" stroke-width="1.3" />
<line x1="433.05" y1="220.01" x2="436.55" y2="220.01" stroke="#941515" stroke-width="1.3" />
<line x1="433.05" y1="223.32" x2="436.55" y2="223.32" stroke="#941515" stroke-width="1.3" />
<rect x="433.45" y="220.31" width="2.7" height="2.7" fill="#941515"/>
<line x1="464.50" y1="213.11" x2="464.50" y2="216.97" stroke="#941515" stroke-width="1.3" />
<line x1="462.75" y1="213.11" x2="466.25" y2="213.11" stroke="#941515" stroke-width="1.3" />
<line x1="462.75" y1="216.97" x2="466.25" y2="216.97" stroke="#941515" stroke-width="1.3" />
<rect x="463.15" y="213.69" width="2.7" height="2.7" fill="#941515"/>
<line x1="470.44" y1="213.11" x2="470.44" y2="216.97" stroke="#941515" stroke-width="1.3" />
<line x1="468.69" y1="213.11" x2="472.19" y2="213.11" stroke="#941515" stroke-width="1.3" />
<line x1="468.69" y1="216.97" x2="472.19" y2="216.97" stroke="#941515" stroke-width="1.3" />
<rect x="469.09" y="213.69" width="2.7" height="2.7" fill="#941515"/>
<polyline points="292.24,210.07 304.12,205.10 316.00,197.38 333.82,179.16 345.70,163.15 357.58,152.66 375.40,123.41" fill="none" stroke="#111111" stroke-width="1.5" stroke-linejoin="round" />
<line x1="292.24" y1="208.42" x2="292.24" y2="211.73" stroke="#111111" stroke-width="1.3" />
<line x1="290.49" y1="208.42" x2="293.99" y2="208.42" stroke="#111111" stroke-width="1.3" />
<line x1="290.49" y1="211.73" x2="293.99" y2="211.73" stroke="#111111" stroke-width="1.3" />
<rect x="290.89" y="208.72" width="2.7" height="2.7" fill="#111111"/>
<line x1="304.12" y1="201.79" x2="304.12" y2="208.42" stroke="#111111" stroke-width="1.3" />
<line x1="302.37" y1="201.79" x2="305.87" y2="201.79" stroke="#111111" stroke-width="1.3" />
<line x1="302.37" y1="208.42" x2="305.87" y2="208.42" stroke="#111111" stroke-width="1.3" />
<rect x="302.77" y="203.75" width="2.7" height="2.7" fill="#111111"/>
<line x1="316.00" y1="194.62" x2="316.00" y2="200.14" stroke="#111111" stroke-width="1.3" />
<line x1="314.25" y1="194.62" x2="317.75" y2="194.62" stroke="#111111" stroke-width="1.3" />
<line x1="314.25" y1="200.14" x2="317.75" y2="200.14" stroke="#111111" stroke-width="1.3" />
<rect x="314.65" y="196.03" width="2.7" height="2.7" fill="#111111"/>
<line x1="333.82" y1="174.47" x2="333.82" y2="183.85" stroke="#111111" stroke-width="1.3" />
<line x1="332.07" y1="174.47" x2="335.57" y2="174.47" stroke="#111111" stroke-width="1.3" />
<line x1="332.07" y1="183.85" x2="335.57" y2="183.85" stroke="#111111" stroke-width="1.3" />
<rect x="332.47" y="177.81" width="2.7" height="2.7" fill="#111111"/>
<line x1="345.70" y1="157.08" x2="345.70" y2="169.22" stroke="#111111" stroke-width="1.3" />
<line x1="343.95" y1="157.08" x2="347.45" y2="157.08" stroke="#111111" stroke-width="1.3" />
<line x1="343.95" y1="169.22" x2="347.45" y2="169.22" stroke="#111111" stroke-width="1.3" />
<rect x="344.35" y="161.80" width="2.7" height="2.7" fill="#111111"/>
<line x1="357.58" y1="146.04" x2="357.58" y2="159.29" stroke="#111111" stroke-width="1.3" />
<line x1="355.83" y1="146.04" x2="359.33" y2="146.04" stroke="#111111" stroke-width="1.3" />
<line x1="355.83" y1="159.29" x2="359.33" y2="159.29" stroke="#111111" stroke-width="1.3" />
<rect x="356.23" y="151.31" width="2.7" height="2.7" fill="#111111"/>
<line x1="375.40" y1="112.37" x2="375.40" y2="134.45" stroke="#111111" stroke-width="1.3" />
<line x1="373.65" y1="112.37" x2="377.15" y2="112.37" stroke="#111111" stroke-width="1.3" />
<line x1="373.65" y1="134.45" x2="377.15" y2="134.45" stroke="#111111" stroke-width="1.3" />
<rect x="374.05" y="122.06" width="2.7" height="2.7" fill="#111111"/>
<circle cx="413.00" cy="174.10" r="1.3" fill="#c24cc2"/>
<circle cx="416.85" cy="174.10" r="1.3" fill="#c24cc2"/>
<circle cx="420.70" cy="174.10" r="1.3" fill="#c24cc2"/>
<circle cx="413.00" cy="179.95" r="1.3" fill="#337040"/>
<circle cx="416.85" cy="179.95" r="1.3" fill="#337040"/>
<circle cx="420.70" cy="179.95" r="1.3" fill="#337040"/>
<circle cx="413.00" cy="185.80" r="1.3" fill="#6a2222"/>
<circle cx="416.85" cy="185.80" r="1.3" fill="#6a2222"/>
<circle cx="420.70" cy="185.80" r="1.3" fill="#6a2222"/>
<text x="390.75" y="256.70" font-size="9.7" fill="#000" font-weight="bold" text-anchor="middle" >Days of treatment</text>
<text transform="translate(265.5,205.9) rotate(-90)" font-size="9.9" font-weight="bold"><tspan letter-spacing="-0.15">Tumor volume</tspan><tspan dx="0.5"> (cm</tspan><tspan dy="-3" font-size="6">3</tspan><tspan dy="3">)</tspan></text>
<text x="6.80" y="284.80" font-size="13.2" fill="#000" font-weight="bold" text-anchor="start" >B</text>
<line x1="36.90" y1="303.95" x2="36.90" y2="441.90" stroke="#111111" stroke-width="1.9" />
<line x1="36.10" y1="441.10" x2="242.10" y2="441.10" stroke="#111111" stroke-width="1.9" />
<line x1="35.30" y1="427.39" x2="36.90" y2="427.39" stroke="#111111" stroke-width="0.8" />
<line x1="35.30" y1="419.37" x2="36.90" y2="419.37" stroke="#111111" stroke-width="0.8" />
<line x1="35.30" y1="413.68" x2="36.90" y2="413.68" stroke="#111111" stroke-width="0.8" />
<line x1="35.30" y1="409.26" x2="36.90" y2="409.26" stroke="#111111" stroke-width="0.8" />
<line x1="35.30" y1="405.66" x2="36.90" y2="405.66" stroke="#111111" stroke-width="0.8" />
<line x1="35.30" y1="402.61" x2="36.90" y2="402.61" stroke="#111111" stroke-width="0.8" />
<line x1="35.30" y1="399.96" x2="36.90" y2="399.96" stroke="#111111" stroke-width="0.8" />
<line x1="35.30" y1="397.63" x2="36.90" y2="397.63" stroke="#111111" stroke-width="0.8" />
<line x1="35.30" y1="381.84" x2="36.90" y2="381.84" stroke="#111111" stroke-width="0.8" />
<line x1="35.30" y1="373.82" x2="36.90" y2="373.82" stroke="#111111" stroke-width="0.8" />
<line x1="35.30" y1="368.13" x2="36.90" y2="368.13" stroke="#111111" stroke-width="0.8" />
<line x1="35.30" y1="363.71" x2="36.90" y2="363.71" stroke="#111111" stroke-width="0.8" />
<line x1="35.30" y1="360.11" x2="36.90" y2="360.11" stroke="#111111" stroke-width="0.8" />
<line x1="35.30" y1="357.06" x2="36.90" y2="357.06" stroke="#111111" stroke-width="0.8" />
<line x1="35.30" y1="354.41" x2="36.90" y2="354.41" stroke="#111111" stroke-width="0.8" />
<line x1="35.30" y1="352.08" x2="36.90" y2="352.08" stroke="#111111" stroke-width="0.8" />
<line x1="35.30" y1="336.29" x2="36.90" y2="336.29" stroke="#111111" stroke-width="0.8" />
<line x1="35.30" y1="328.27" x2="36.90" y2="328.27" stroke="#111111" stroke-width="0.8" />
<line x1="35.30" y1="322.58" x2="36.90" y2="322.58" stroke="#111111" stroke-width="0.8" />
<line x1="35.30" y1="318.16" x2="36.90" y2="318.16" stroke="#111111" stroke-width="0.8" />
<line x1="35.30" y1="314.56" x2="36.90" y2="314.56" stroke="#111111" stroke-width="0.8" />
<line x1="35.30" y1="311.51" x2="36.90" y2="311.51" stroke="#111111" stroke-width="0.8" />
<line x1="35.30" y1="308.86" x2="36.90" y2="308.86" stroke="#111111" stroke-width="0.8" />
<line x1="35.30" y1="306.53" x2="36.90" y2="306.53" stroke="#111111" stroke-width="0.8" />
<line x1="34.30" y1="441.10" x2="36.90" y2="441.10" stroke="#111111" stroke-width="1.2" />
<text x="31.80" y="444.30" font-size="6.5" fill="#222222" font-weight="normal" text-anchor="end" textLength="14.15" lengthAdjust="spacingAndGlyphs">0.001</text>
<line x1="34.30" y1="395.55" x2="36.90" y2="395.55" stroke="#111111" stroke-width="1.2" />
<text x="31.80" y="398.75" font-size="6.5" fill="#222222" font-weight="normal" text-anchor="end" textLength="11.20" lengthAdjust="spacingAndGlyphs">0.01</text>
<line x1="34.30" y1="350.00" x2="36.90" y2="350.00" stroke="#111111" stroke-width="1.2" />
<text x="31.80" y="353.20" font-size="6.5" fill="#222222" font-weight="normal" text-anchor="end" textLength="8.25" lengthAdjust="spacingAndGlyphs">0.1</text>
<line x1="34.30" y1="304.45" x2="36.90" y2="304.45" stroke="#111111" stroke-width="1.2" />
<text x="31.80" y="307.65" font-size="6.5" fill="#222222" font-weight="normal" text-anchor="end" >1</text>
<line x1="36.90" y1="441.10" x2="36.90" y2="443.70" stroke="#111111" stroke-width="1.3" />
<text x="36.90" y="452.10" font-size="6.4" fill="#222222" font-weight="normal" text-anchor="middle" >0</text>
<line x1="66.10" y1="441.10" x2="66.10" y2="443.70" stroke="#111111" stroke-width="1.3" />
<text x="66.10" y="452.10" font-size="6.4" fill="#222222" font-weight="normal" text-anchor="middle" >5</text>
<line x1="95.30" y1="441.10" x2="95.30" y2="443.70" stroke="#111111" stroke-width="1.3" />
<text x="95.30" y="452.10" font-size="6.4" fill="#222222" font-weight="normal" text-anchor="middle" >10</text>
<line x1="124.50" y1="441.10" x2="124.50" y2="443.70" stroke="#111111" stroke-width="1.3" />
<text x="124.50" y="452.10" font-size="6.4" fill="#222222" font-weight="normal" text-anchor="middle" >15</text>
<line x1="153.70" y1="441.10" x2="153.70" y2="443.70" stroke="#111111" stroke-width="1.3" />
<text x="153.70" y="452.10" font-size="6.4" fill="#222222" font-weight="normal" text-anchor="middle" >20</text>
<line x1="182.90" y1="441.10" x2="182.90" y2="443.70" stroke="#111111" stroke-width="1.3" />
<text x="182.90" y="452.10" font-size="6.4" fill="#222222" font-weight="normal" text-anchor="middle" >25</text>
<line x1="212.10" y1="441.10" x2="212.10" y2="443.70" stroke="#111111" stroke-width="1.3" />
<text x="212.10" y="452.10" font-size="6.4" fill="#222222" font-weight="normal" text-anchor="middle" >30</text>
<line x1="241.30" y1="441.10" x2="241.30" y2="443.70" stroke="#111111" stroke-width="1.3" />
<text x="241.30" y="452.10" font-size="6.4" fill="#222222" font-weight="normal" text-anchor="middle" >35</text>
<line x1="38.15" y1="406.81" x2="242.80" y2="406.81" stroke="#3a3a3a" stroke-width="1.6" stroke-dasharray="2.1,2.18"/>
<g clip-path="url(#clip36)">
<polyline points="36.90,353.23 37.20,353.74 37.49,354.24 37.79,354.74 38.09,355.24 38.39,355.74 38.68,356.23 38.98,356.72 39.28,357.21 39.57,357.70 39.87,358.18 40.17,358.66 40.47,359.14 40.76,359.61 41.06,360.09 41.36,360.56 41.65,361.02 41.95,361.49 42.25,361.95 42.55,362.41 42.84,362.86 43.14,363.32 43.44,363.77 43.73,364.22 44.03,364.66 44.33,365.10 44.63,365.54 44.92,365.98 45.22,366.41 45.52,366.84 45.81,367.27 46.11,367.69 46.41,368.11 46.71,368.53 47.00,368.94 47.30,369.36 47.60,369.77 47.89,370.17 48.19,370.58 48.49,370.98 48.79,371.37 49.08,371.77 49.38,372.16 49.68,372.55 49.97,372.93 50.27,373.31 50.57,373.69 50.87,374.07 51.16,374.44 51.46,374.81 51.76,375.18 52.05,375.55 52.35,375.91 52.65,376.27 52.95,376.62 53.24,376.97 53.54,377.32 53.84,377.67 54.13,378.02 54.43,378.36 54.73,378.70 55.03,379.03 55.32,379.37 55.62,379.70 55.92,380.02 56.21,380.35 56.51,380.67 56.81,380.99 57.11,381.31 57.40,381.62 57.70,381.93 58.00,382.24 58.29,382.55 58.59,382.85 58.89,383.15 59.19,383.45 59.48,383.75 59.78,384.04 60.08,384.33 60.37,384.62 60.67,384.91 60.97,385.20 61.27,385.48 61.56,385.76 61.86,386.03 62.16,386.31 62.45,386.58 62.75,386.85 63.05,387.12 63.35,387.39 63.64,387.65 63.94,387.92 64.24,388.18 64.53,388.44 64.83,388.69 65.13,388.95 65.43,389.20 65.72,389.45 66.02,389.70 66.32,389.95 66.61,390.19 66.91,390.44 67.21,390.68 67.51,390.92 67.80,391.16 68.10,391.39 68.40,391.63 68.69,391.86 68.99,392.09 69.29,392.33 69.59,392.55 69.88,392.78 70.18,393.01 70.48,393.23 70.77,393.45 71.07,393.68 71.37,393.90 71.67,394.12 71.96,394.33 72.26,394.55 72.56,394.76 72.85,394.98 73.15,395.19 73.45,395.40 73.75,395.61 74.04,395.82 74.34,396.03 74.64,396.23 74.93,396.44 75.23,396.64 75.53,396.85 75.83,397.05 76.12,397.25 76.42,397.45 76.72,397.65 77.01,397.85 77.31,398.05 77.61,398.24 77.91,398.44 78.20,398.63 78.50,398.83 78.79,399.02 79.08,399.21 79.37,399.40 79.66,399.60 79.95,399.79 80.24,399.97 80.52,400.16 80.81,400.35 81.10,400.54 81.39,400.72 81.68,400.91 81.97,401.09 82.26,401.28 82.55,401.46 82.84,401.64 83.13,401.83 83.42,402.01 83.71,402.19 84.00,402.37 84.29,402.55 84.58,402.73 84.86,402.91 85.15,403.09 85.44,403.26 85.73,403.44 86.02,403.62 86.31,403.80 86.60,403.97 86.89,404.15 87.18,404.32 87.47,404.50 87.76,404.67 88.05,404.84 88.34,405.02 88.62,405.19 88.91,405.36 89.20,405.54 89.49,405.71 89.78,405.88 90.07,406.05 90.36,406.22 90.65,406.39 90.94,406.56 91.23,406.73 91.52,406.90 91.81,407.07 92.10,407.24 92.39,407.41 92.67,407.57 92.96,407.74 93.25,407.91 93.54,408.08 93.83,408.24 94.12,408.41 94.41,408.58 94.70,408.74 94.99,408.91 95.28,409.08 95.57,409.24 95.86,409.41 96.15,409.57 96.44,409.74 96.73,409.90 97.01,410.07 97.30,410.23 97.59,410.40 97.88,410.56 98.17,410.72 98.46,410.89 98.75,411.05 99.04,411.21 99.33,411.38 99.62,411.54 99.91,411.70 100.20,411.86 100.49,412.03 100.77,412.19 101.06,412.35 101.35,412.51 101.64,412.68 101.93,412.84 102.22,413.00 102.51,413.16 102.80,413.32 103.09,413.48 103.38,413.64 103.67,413.81 103.96,413.97 104.25,414.13 104.54,414.29 104.83,414.45 105.11,414.61 105.40,414.77 105.69,414.93 105.98,415.09 106.27,415.25 106.56,415.41 106.85,415.57 107.14,415.73 107.43,415.89 107.72,416.05 108.01,416.21 108.30,416.37 108.59,416.53 108.88,416.69 109.16,416.85 109.45,417.01 109.74,417.16 110.03,417.32 110.32,417.48 110.61,417.64 110.90,417.80 111.19,417.96 111.48,418.12 111.77,418.28 112.06,418.44 112.35,418.59 112.64,418.75 112.92,418.91 113.21,419.07 113.50,419.23 113.79,419.39 114.08,419.54 114.37,419.70 114.66,419.86 114.95,420.02 115.24,420.18 115.53,420.33 115.82,420.49 116.11,420.65 116.40,420.81 116.69,420.97 116.97,421.12 117.26,421.28 117.55,421.44 117.84,421.60 118.13,421.75 118.42,421.91 118.71,422.07 119.00,422.23 119.29,422.39 119.58,422.54 119.87,422.70 120.16,422.86 120.45,423.02 120.74,423.17 121.03,423.33 121.32,423.49 121.61,423.64 121.90,423.80 122.19,423.96 122.48,424.12 122.77,424.27 123.06,424.43 123.35,424.59 123.64,424.75 123.93,424.90 124.22,425.06 124.51,425.22 124.80,425.37 125.09,425.53 125.38,425.69 125.67,425.84 125.96,426.00 126.25,426.16 126.54,426.32 126.83,426.47 127.12,426.63 127.41,426.79 127.70,426.94 127.99,427.10 128.28,427.26 128.57,427.41 128.86,427.57 129.15,427.73 129.44,427.88 129.73,428.04 130.02,428.20 130.31,428.35 130.60,428.51 130.89,428.67 131.18,428.83 131.47,428.98 131.76,429.14 132.05,429.30 132.34,429.45 132.63,429.61 132.92,429.77 133.21,429.92 133.50,430.08 133.79,430.24 134.08,430.39 134.37,430.55 134.66,430.71 134.95,430.86 135.24,431.02 135.53,431.18 135.82,431.33 136.11,431.49 136.40,431.64 136.69,431.80 136.98,431.96 137.27,432.11 137.56,432.27 137.85,432.43 138.14,432.58 138.43,432.74 138.72,432.90 139.01,433.05 139.30,433.21 139.59,433.37 139.88,433.52 140.17,433.68 140.46,433.84 140.75,433.99 141.04,434.15 141.33,434.31 141.62,434.46 141.91,434.62 142.20,434.78 142.49,434.93 142.78,435.09 143.07,435.24 143.36,435.40 143.65,435.56 143.94,435.71 144.23,435.87 144.52,436.03 144.81,436.18 145.10,436.34 145.39,436.50 145.68,436.65 145.97,436.81 146.26,436.97 146.55,437.12 146.84,437.28 147.13,437.43 147.42,437.59 147.71,437.75 148.00,437.90 148.29,438.06 148.58,438.22 148.87,438.37 149.16,438.53 149.45,438.69 149.74,438.84 150.03,439.00 150.32,439.15 150.61,439.31 150.90,439.47 151.19,439.62 151.48,439.78 151.77,439.94 152.06,440.09 152.35,440.25 152.64,440.41 152.93,440.56 153.22,440.72 153.51,440.87 153.80,441.03 154.09,441.10 160.10,354.23 160.18,354.03 160.48,354.53 160.77,355.03 161.06,355.52 161.35,356.01 161.64,356.50 161.94,356.98 162.23,357.46 162.52,357.94 162.81,358.42 163.10,358.89 163.40,359.37 163.69,359.83 163.98,360.30 164.27,360.76 164.56,361.22 164.86,361.68 165.15,362.14 165.44,362.59 165.73,363.04 166.02,363.48 166.32,363.93 166.61,364.37 166.90,364.81 167.19,365.24 167.48,365.67 167.78,366.10 168.07,366.53 168.36,366.95 168.65,367.37 168.94,367.79 169.24,368.20 169.53,368.61 169.82,369.02 170.11,369.42 170.40,369.82 170.70,370.22 170.99,370.62 171.28,371.01 171.57,371.40 171.86,371.79 172.16,372.17 172.45,372.55 172.74,372.93 173.03,373.31 173.32,373.68 173.62,374.05 173.91,374.41 174.20,374.78 174.49,375.14 174.78,375.50 175.08,375.85 175.37,376.20 175.66,376.55 175.95,376.90 176.24,377.24 176.54,377.58 176.83,377.92 177.12,378.25 177.41,378.58 177.70,378.91 178.00,379.24 178.29,379.56 178.58,379.88 178.87,380.20 179.16,380.52 179.46,380.83 179.75,381.14 180.04,381.45 180.33,381.75 180.62,382.06 180.92,382.36 181.21,382.66 181.50,382.95 181.79,383.24 182.08,383.53 182.38,383.82 182.67,384.11 182.96,384.39 183.25,384.67 183.54,384.95 183.84,385.23 184.13,385.50 184.42,385.77 184.71,386.04 185.00,386.31 185.30,386.58 185.59,386.84 185.88,387.10 186.17,387.36 186.46,387.62 186.76,387.88 187.05,388.13 187.34,388.38 187.63,388.63 187.92,388.88 188.22,389.13 188.51,389.37 188.80,389.62 189.09,389.86 189.38,390.10 189.68,390.33 189.97,390.57 190.26,390.80 190.55,391.04 190.84,391.27 191.14,391.50 191.43,391.73 191.72,391.95 192.01,392.18 192.30,392.40 192.60,392.62 192.89,392.84 193.18,393.06 193.47,393.28 193.76,393.50 194.06,393.72 194.35,393.93 194.64,394.14 194.93,394.35 195.22,394.57 195.52,394.77 195.81,394.98 196.10,395.19 196.39,395.40 196.68,395.60 196.98,395.81 197.27,396.01 197.56,396.21 197.85,396.41 198.14,396.61 198.44,396.81 198.73,397.01 199.02,397.20 199.31,397.40 199.60,397.60 199.90,397.79 200.19,397.98 200.48,398.18 200.77,398.37 201.06,398.56 201.36,398.75 201.65,398.94 201.94,399.13 202.23,399.32 202.52,399.50 202.82,399.69 203.11,399.88 203.40,400.06 203.69,400.25 203.98,400.43 204.28,400.61 204.57,400.80 204.86,400.98 205.15,401.16 205.44,401.34 205.74,401.52 206.03,401.70 206.32,401.88 206.61,402.06 206.90,402.24 207.20,402.41 207.49,402.59 207.78,402.77 208.07,402.94 208.36,403.12 208.66,403.29 208.95,403.47 209.24,403.64 209.53,403.82 209.82,403.99 210.12,404.16 210.41,404.34 210.70,404.51 210.99,404.68 211.28,404.85 211.58,405.02 211.87,405.20 212.16,405.37 212.45,405.54 212.74,405.71 213.04,405.88 213.33,406.05 213.62,406.21 213.91,406.38 214.20,406.55 214.50,406.72 214.79,406.89 215.08,407.05 215.37,407.22 215.66,407.39 215.96,407.56 216.25,407.72 216.54,407.89 216.83,408.05 217.12,408.22 217.42,408.39 217.71,408.55 218.00,408.72" fill="none" stroke="#d946d0" stroke-width="1.55" stroke-linejoin="round" />
<polyline points="36.90,353.23 37.20,353.74 37.49,354.24 37.79,354.74 38.09,355.24 38.39,355.74 38.68,356.23 38.98,356.72 39.28,357.21 39.57,357.70 39.87,358.18 40.17,358.66 40.47,359.14 40.76,359.61 41.06,360.09 41.36,360.56 41.65,361.02 41.95,361.49 42.25,361.95 42.55,362.41 42.84,362.86 43.14,363.32 43.44,363.77 43.73,364.22 44.03,364.66 44.33,365.10 44.63,365.54 44.92,365.98 45.22,366.41 45.52,366.84 45.81,367.27 46.11,367.69 46.41,368.11 46.71,368.53 47.00,368.94 47.30,369.36 47.60,369.77 47.89,370.17 48.19,370.58 48.49,370.98 48.79,371.37 49.08,371.77 49.38,372.16 49.68,372.55 49.97,372.93 50.27,373.31 50.57,373.69 50.87,374.07 51.16,374.44 51.46,374.81 51.76,375.18 52.05,375.55 52.35,375.91 52.65,376.27 52.95,376.62 53.24,376.97 53.54,377.32 53.84,377.67 54.13,378.02 54.43,378.36 54.73,378.70 55.03,379.03 55.32,379.37 55.62,379.70 55.92,380.02 56.21,380.35 56.51,380.67 56.81,380.99 57.11,381.31 57.40,381.62 57.70,381.93 58.00,382.24 58.29,382.55 58.59,382.85 58.89,383.15 59.19,383.45 59.48,383.75 59.78,384.04 60.08,384.33 60.37,384.62 60.67,384.91 60.97,385.20 61.27,385.48 61.56,385.76 61.86,386.03 62.16,386.31 62.45,386.58 62.75,386.85 63.05,387.12 63.35,387.39 63.64,387.65 63.94,387.92 64.24,388.18 64.53,388.44 64.83,388.69 65.13,388.95 65.43,389.20 65.72,389.45 66.02,389.70 66.32,389.95 66.61,390.19 66.91,390.44 67.21,390.68 67.51,390.92 67.80,391.16 68.10,391.39 68.40,391.63 68.69,391.86 68.99,392.09 69.29,392.33 69.59,392.55 69.88,392.78 70.18,393.01 70.48,393.23 70.77,393.45 71.07,393.68 71.37,393.90 71.67,394.12 71.96,394.33 72.26,394.55 72.56,394.76 72.85,394.98 73.15,395.19 73.45,395.40 73.75,395.61 74.04,395.82 74.34,396.03 74.64,396.23 74.93,396.44 75.23,396.64 75.53,396.85 75.83,397.05 76.12,397.25 76.42,397.45 76.72,397.65 77.01,397.85 77.31,398.05 77.61,398.24 77.91,398.44 78.20,398.63 78.50,398.83 78.79,399.02 79.08,399.21 79.37,399.40 79.66,399.60 79.95,399.79 80.24,399.97 80.52,400.16 80.81,400.35 81.10,400.54 81.39,400.72 81.68,400.91 81.97,401.09 82.26,401.28 82.55,401.46 82.84,401.64 83.13,401.83 83.42,402.01 83.71,402.19 84.00,402.37 84.29,402.55 84.58,402.73 84.86,402.91 85.15,403.09 85.44,403.26 85.73,403.44 86.02,403.62 86.31,403.80 86.60,403.97 86.89,404.15 87.18,404.32 87.47,404.50 87.76,404.67 88.05,404.84 88.34,405.02 88.62,405.19 88.91,405.36 89.20,405.54 89.49,405.71 89.78,405.88 90.07,406.05 90.36,406.22 90.65,406.39 90.94,406.56 91.23,406.73 91.52,406.90 91.81,407.07 92.10,407.24 92.39,407.41 92.67,407.57 92.96,407.74 93.25,407.91 93.54,408.08 93.83,408.24 94.12,408.41 94.41,408.58 94.70,408.74 94.99,408.91 95.28,409.08 95.57,409.24 95.86,409.41 96.15,409.57 96.44,409.74 96.73,409.90 97.01,410.07 97.30,410.23 97.59,410.40 97.88,410.56 98.17,410.72 98.46,410.89 98.75,411.05 99.04,411.21 99.33,411.38 99.62,411.54 99.91,411.70 100.20,411.86 100.49,412.03 100.77,412.19 101.06,412.35 101.35,412.51 101.64,412.68 101.93,412.84 102.22,413.00 102.51,413.16 102.80,413.32 103.09,413.48 103.38,413.64 103.67,413.81 103.96,413.97 104.25,414.13 104.54,414.29 104.83,414.45 105.11,414.61 105.40,414.77 105.69,414.93 105.98,415.09 106.27,415.25 106.56,415.41 106.85,415.57 107.14,415.73 107.43,415.89 107.72,416.05 108.01,416.21 108.30,416.37 108.59,416.53 108.88,416.69 109.16,416.85 109.45,417.01 109.74,417.16 110.03,417.32 110.32,417.48 110.61,417.64 110.90,417.80 111.19,417.96 111.48,418.12 111.77,418.28 112.06,418.44 112.35,418.59 112.64,418.75 112.92,418.91 113.21,419.07 113.50,419.23 113.79,419.39 114.08,419.54 114.37,419.70 114.66,419.86 114.95,420.02 115.24,420.18 115.53,420.33 115.82,420.49 116.11,420.65 116.40,420.81 116.69,420.97 116.97,421.12 117.26,421.28 117.55,421.44 117.84,421.60 118.13,421.75 118.42,421.91 118.71,422.07 118.50,422.23 119.50,353.82 119.58,353.62 119.87,354.11 120.16,354.60 120.45,355.09 120.74,355.57 121.03,356.05 121.32,356.53 121.61,357.00 121.90,357.47 122.19,357.94 122.48,358.41 122.77,358.87 123.06,359.34 123.35,359.79 123.64,360.25 123.93,360.70 124.22,361.15 124.51,361.60 124.80,362.04 125.09,362.48 125.38,362.92 125.67,363.36 125.96,363.79 126.25,364.22 126.54,364.64 126.83,365.07 127.12,365.49 127.41,365.91 127.70,366.32 127.99,366.73 128.28,367.14 128.57,367.55 128.86,367.95 129.15,368.35 129.44,368.74 129.73,369.14 130.02,369.53 130.31,369.92 130.60,370.30 130.89,370.68 131.18,371.06 131.47,371.44 131.76,371.81 132.05,372.18 132.34,372.55 132.63,372.91 132.92,373.27 133.21,373.63 133.50,373.98 133.79,374.34 134.08,374.69 134.37,375.03 134.66,375.38 134.95,375.72 135.24,376.06 135.53,376.39 135.82,376.72 136.11,377.05 136.40,377.38 136.69,377.70 136.98,378.03 137.27,378.35 137.56,378.66 137.85,378.98 138.14,379.29 138.43,379.59 138.72,379.90 139.01,380.20 139.30,380.50 139.59,380.80 139.88,381.10 140.17,381.39 140.46,381.68 140.75,381.97 141.04,382.26 141.33,382.54 141.62,382.82 141.91,383.10 142.20,383.38 142.49,383.66 142.78,383.93 143.07,384.20 143.36,384.47 143.65,384.73 143.94,385.00 144.23,385.26 144.52,385.52 144.81,385.78 145.10,386.03 145.39,386.29 145.68,386.54 145.97,386.79 146.26,387.04 146.55,387.29 146.84,387.53 147.13,387.78 147.42,388.02 147.71,388.26 148.00,388.49 148.29,388.73 148.58,388.97 148.87,389.20 149.16,389.43 149.45,389.66 149.74,389.89 150.03,390.12 150.32,390.34 150.61,390.57 150.90,390.79 151.19,391.01 151.48,391.23 151.77,391.45 152.06,391.67 152.35,391.88 152.64,392.10 152.93,392.31 153.22,392.52 153.51,392.73 153.80,392.94 154.09,393.15 154.38,393.36 154.67,393.57 154.96,393.77 155.25,393.97 155.54,394.18 155.83,394.38 156.12,394.58 156.41,394.78 156.70,394.98 156.99,395.18 157.28,395.38 157.57,395.57 157.86,395.77 158.15,395.96 158.44,396.16 158.73,396.35 159.02,396.54 159.31,396.73 159.60,396.92 159.89,397.11 160.18,397.30 160.48,397.49 160.77,397.68 161.06,397.86 161.35,398.05 161.64,398.23 161.94,398.42 162.23,398.60 162.52,398.79 162.81,398.97 163.10,399.15 163.40,399.33 163.69,399.51 163.98,399.69 164.27,399.87 164.56,400.05 164.86,400.23 165.15,400.41 165.44,400.59 165.73,400.77 166.02,400.94 166.32,401.12 166.61,401.30 166.90,401.47 167.19,401.65 167.48,401.82 167.78,401.99 168.07,402.17 168.36,402.34 168.65,402.51 168.94,402.69 169.24,402.86 169.53,403.03 169.82,403.20 170.11,403.37 170.40,403.54 170.70,403.71 170.99,403.88 171.28,404.05 171.57,404.22 171.86,404.39 172.16,404.56 172.45,404.73 172.74,404.90 173.03,405.06 173.32,405.23 173.62,405.40 173.91,405.57 174.20,405.73 174.49,405.90 174.78,406.07 175.08,406.23 175.37,406.40 175.66,406.56 175.95,406.73 176.24,406.89 176.54,407.06 176.83,407.22 177.12,407.39 177.41,407.55 177.70,407.72 178.00,407.88 178.29,408.04 178.58,408.21 178.87,408.37 179.16,408.53 179.46,408.70 179.75,408.86 180.04,409.02 180.33,409.19 180.62,409.35 180.92,409.51 181.21,409.67 181.50,409.83 181.79,410.00 182.08,410.16 182.38,410.32 182.67,410.48 182.96,410.64 183.25,410.80 183.54,410.97 183.84,411.13 184.13,411.29 184.42,411.45 184.71,411.61 185.00,411.77 185.30,411.93 185.59,412.09 185.88,412.25 186.17,412.41 186.46,412.57 186.76,412.73 187.05,412.89 187.34,413.05 187.63,413.21 187.92,413.37 188.22,413.53 188.51,413.69 188.80,413.85 189.09,414.01 189.38,414.17 189.68,414.33 189.97,414.48 190.26,414.64 190.55,414.80 190.84,414.96 191.14,415.12 191.43,415.28 191.72,415.44 192.01,415.60 192.30,415.76 192.60,415.91 192.89,416.07 193.18,416.23 193.47,416.39 193.76,416.55 194.06,416.71 194.35,416.86 194.64,417.02 194.93,417.18 195.22,417.34 195.52,417.50 195.81,417.65 196.10,417.81 196.39,417.97 196.68,418.13 196.98,418.29 197.27,418.44 197.56,418.60 197.85,418.76 198.14,418.92 198.44,419.07 198.73,419.23 199.02,419.39 199.31,419.55 199.60,419.71 199.90,419.86 200.19,420.02 200.48,420.18 200.77,420.34 201.06,420.49 201.36,420.65 201.65,420.81 201.94,420.96 202.23,421.12 202.52,421.28 202.82,421.44 203.11,421.59 203.40,421.75 203.69,421.91 203.98,422.07 204.28,422.22 204.57,422.38 204.86,422.54 205.15,422.69 205.44,422.85 205.74,423.01 206.03,423.16 206.32,423.32 206.61,423.48 206.90,423.64 207.20,423.79 207.49,423.95 207.78,424.11 208.07,424.26 208.36,424.42 208.66,424.58 208.95,424.73 209.24,424.89 209.53,425.05 209.82,425.20 210.12,425.36 210.41,425.52 210.70,425.67 210.99,425.83 211.28,425.99 211.58,426.14 211.87,426.30 212.16,426.46 212.45,426.62 212.74,426.77 213.04,426.93 213.33,427.09 213.62,427.24 213.91,427.40 214.20,427.56 214.50,427.71 214.79,427.87 215.08,428.02 215.37,428.18 215.66,428.34 215.96,428.49 216.25,428.65 216.54,428.81 216.83,428.96 217.12,429.12 217.42,429.28 217.71,429.43 218.00,429.59" fill="none" stroke="#1c7226" stroke-width="1.55" stroke-linejoin="round" />
<polyline points="36.90,353.23 37.20,353.74 37.49,354.24 37.79,354.74 38.09,355.24 38.39,355.74 38.68,356.23 38.98,356.72 39.28,357.21 39.57,357.70 39.87,358.18 40.17,358.66 40.47,359.14 40.76,359.61 41.06,360.09 41.36,360.56 41.65,361.02 41.95,361.49 42.25,361.95 42.55,362.41 42.84,362.86 43.14,363.32 43.44,363.77 43.73,364.22 44.03,364.66 44.33,365.10 44.63,365.54 44.92,365.98 45.22,366.41 45.52,366.84 45.81,367.27 46.11,367.69 46.41,368.11 46.71,368.53 47.00,368.94 47.30,369.36 47.60,369.77 47.89,370.17 48.19,370.58 48.49,370.98 48.79,371.37 49.08,371.77 49.38,372.16 49.68,372.55 49.97,372.93 50.27,373.31 50.57,373.69 50.87,374.07 51.16,374.44 51.46,374.81 51.76,375.18 52.05,375.55 52.35,375.91 52.65,376.27 52.95,376.62 53.24,376.97 53.54,377.32 53.84,377.67 54.13,378.02 54.43,378.36 54.73,378.70 55.03,379.03 55.32,379.37 55.62,379.70 55.92,380.02 56.21,380.35 56.51,380.67 56.81,380.99 57.11,381.31 57.40,381.62 57.70,381.93 58.00,382.24 58.29,382.55 58.59,382.85 58.89,383.15 59.19,383.45 59.48,383.75 59.78,384.04 60.08,384.33 60.37,384.62 60.67,384.91 60.97,385.20 61.27,385.48 61.56,385.76 61.86,386.03 62.16,386.31 62.45,386.58 62.75,386.85 63.05,387.12 63.35,387.39 63.64,387.65 63.94,387.92 64.24,388.18 64.53,388.44 64.83,388.69 65.13,388.95 65.43,389.20 65.72,389.45 66.02,389.70 66.32,389.95 66.61,390.19 66.91,390.44 67.21,390.68 67.51,390.92 67.80,391.16 68.10,391.39 68.40,391.63 68.69,391.86 68.99,392.09 69.29,392.33 69.59,392.55 69.88,392.78 70.18,393.01 70.48,393.23 70.77,393.45 71.07,393.68 71.37,393.90 71.67,394.12 71.96,394.33 72.26,394.55 72.56,394.76 72.85,394.98 73.15,395.19 73.45,395.40 73.75,395.61 74.04,395.82 74.34,396.03 74.64,396.23 74.93,396.44 75.23,396.64 75.53,396.85 75.83,397.05 76.12,397.25 76.42,397.45 76.72,397.65 77.01,397.85 77.31,398.05 77.61,398.24 77.91,398.44 78.20,398.63 78.00,398.83 79.00,352.49 79.08,352.30 79.37,352.77 79.66,353.24 79.95,353.71 80.24,354.17 80.52,354.63 80.81,355.09 81.10,355.55 81.39,356.00 81.68,356.45 81.97,356.90 82.26,357.34 82.55,357.78 82.84,358.22 83.13,358.66 83.42,359.09 83.71,359.52 84.00,359.94 84.29,360.37 84.58,360.79 84.86,361.21 85.15,361.62 85.44,362.03 85.73,362.44 86.02,362.85 86.31,363.25 86.60,363.65 86.89,364.05 87.18,364.44 87.47,364.83 87.76,365.22 88.05,365.60 88.34,365.98 88.62,366.36 88.91,366.74 89.20,367.11 89.49,367.48 89.78,367.85 90.07,368.21 90.36,368.57 90.65,368.93 90.94,369.29 91.23,369.64 91.52,369.99 91.81,370.33 92.10,370.68 92.39,371.02 92.67,371.36 92.96,371.69 93.25,372.03 93.54,372.36 93.83,372.68 94.12,373.01 94.41,373.33 94.70,373.65 94.99,373.96 95.28,374.28 95.57,374.59 95.86,374.90 96.15,375.20 96.44,375.51 96.73,375.81 97.01,376.11 97.30,376.40 97.59,376.70 97.88,376.99 98.17,377.28 98.46,377.56 98.75,377.85 99.04,378.13 99.33,378.41 99.62,378.68 99.91,378.96 100.20,379.23 100.49,379.50 100.77,379.77 101.06,380.04 101.35,380.30 101.64,380.56 101.93,380.82 102.22,381.08 102.51,381.34 102.80,381.59 103.09,381.85 103.38,382.10 103.67,382.34 103.96,382.59 104.25,382.84 104.54,383.08 104.83,383.32 105.11,383.56 105.40,383.80 105.69,384.04 105.98,384.27 106.27,384.50 106.56,384.74 106.85,384.97 107.14,385.19 107.43,385.42 107.72,385.65 108.01,385.87 108.30,386.09 108.59,386.32 108.88,386.53 109.16,386.75 109.45,386.97 109.74,387.19 110.03,387.40 110.32,387.61 110.61,387.83 110.90,388.04 111.19,388.25 111.48,388.46 111.77,388.66 112.06,388.87 112.35,389.08 112.64,389.28 112.92,389.48 113.21,389.69 113.50,389.89 113.79,390.09 114.08,390.29 114.37,390.48 114.66,390.68 114.95,390.88 115.24,391.07 115.53,391.27 115.82,391.46 116.11,391.65 116.40,391.85 116.69,392.04 116.97,392.23 117.26,392.42 117.55,392.61 117.84,392.80 118.13,392.98 118.42,393.17 118.71,393.36 118.50,393.54 119.50,351.93 119.58,351.74 119.87,352.20 120.16,352.66 120.45,353.12 120.74,353.58 121.03,354.03 121.32,354.48 121.61,354.92 121.90,355.37 122.19,355.81 122.48,356.25 122.77,356.68 123.06,357.11 123.35,357.54 123.64,357.97 123.93,358.39 124.22,358.81 124.51,359.23 124.80,359.64 125.09,360.05 125.38,360.46 125.67,360.87 125.96,361.27 126.25,361.67 126.54,362.06 126.83,362.46 127.12,362.85 127.41,363.23 127.70,363.62 127.99,364.00 128.28,364.38 128.57,364.75 128.86,365.12 129.15,365.49 129.44,365.86 129.73,366.22 130.02,366.58 130.31,366.94 130.60,367.29 130.89,367.65 131.18,368.00 131.47,368.34 131.76,368.68 132.05,369.03 132.34,369.36 132.63,369.70 132.92,370.03 133.21,370.36 133.50,370.69 133.79,371.01 134.08,371.33 134.37,371.65 134.66,371.96 134.95,372.28 135.24,372.59 135.53,372.90 135.82,373.20 136.11,373.50 136.40,373.80 136.69,374.10 136.98,374.40 137.27,374.69 137.56,374.98 137.85,375.27 138.14,375.56 138.43,375.84 138.72,376.12 139.01,376.40 139.30,376.68 139.59,376.95 139.88,377.22 140.17,377.49 140.46,377.76 140.75,378.03 141.04,378.29 141.33,378.55 141.62,378.81 141.91,379.07 142.20,379.33 142.49,379.58 142.78,379.83 143.07,380.08 143.36,380.33 143.65,380.58 143.94,380.82 144.23,381.07 144.52,381.31 144.81,381.55 145.10,381.78 145.39,382.02 145.68,382.25 145.97,382.49 146.26,382.72 146.55,382.95 146.84,383.18 147.13,383.40 147.42,383.63 147.71,383.85 148.00,384.07 148.29,384.30 148.58,384.52 148.87,384.73 149.16,384.95 149.45,385.17 149.74,385.38 150.03,385.59 150.32,385.81 150.61,386.02 150.90,386.23 151.19,386.43 151.48,386.64 151.77,386.85 152.06,387.05 152.35,387.26 152.64,387.46 152.93,387.66 153.22,387.86 153.51,388.06 153.80,388.26 154.09,388.46 154.38,388.66 154.67,388.85 154.96,389.05 155.25,389.24 155.54,389.44 155.83,389.63 156.12,389.82 156.41,390.01 156.70,390.20 156.99,390.39 157.28,390.58 157.57,390.77 157.86,390.96 158.15,391.14 158.44,391.33 158.73,391.51 159.02,391.70 159.31,391.88 159.10,392.07 160.10,351.74 160.18,351.56 160.48,352.02 160.77,352.48 161.06,352.93 161.35,353.38 161.64,353.83 161.94,354.28 162.23,354.72 162.52,355.16 162.81,355.60 163.10,356.04 163.40,356.47 163.69,356.90 163.98,357.32 164.27,357.75 164.56,358.17 164.86,358.58 165.15,359.00 165.44,359.41 165.73,359.82 166.02,360.22 166.32,360.62 166.61,361.02 166.90,361.42 167.19,361.81 167.48,362.20 167.78,362.59 168.07,362.97 168.36,363.35 168.65,363.73 168.94,364.11 169.24,364.48 169.53,364.85 169.82,365.21 170.11,365.58 170.40,365.94 170.70,366.29 170.99,366.65 171.28,367.00 171.57,367.35 171.86,367.70 172.16,368.04 172.45,368.38 172.74,368.72 173.03,369.05 173.32,369.38 173.62,369.71 173.91,370.04 174.20,370.36 174.49,370.68 174.78,371.00 175.08,371.32 175.37,371.63 175.66,371.94 175.95,372.25 176.24,372.56 176.54,372.86 176.83,373.16 177.12,373.46 177.41,373.75 177.70,374.04 178.00,374.34 178.29,374.62 178.58,374.91 178.87,375.19 179.16,375.47 179.46,375.75 179.75,376.03 180.04,376.30 180.33,376.58 180.62,376.85 180.92,377.12 181.21,377.38 181.50,377.64 181.79,377.91 182.08,378.17 182.38,378.42 182.67,378.68 182.96,378.93 183.25,379.19 183.54,379.44 183.84,379.68 184.13,379.93 184.42,380.18 184.71,380.42 185.00,380.66 185.30,380.90 185.59,381.14 185.88,381.37 186.17,381.61 186.46,381.84 186.76,382.07 187.05,382.30 187.34,382.53 187.63,382.76 187.92,382.98 188.22,383.21 188.51,383.43 188.80,383.65 189.09,383.87 189.38,384.09 189.68,384.30 189.97,384.52 190.26,384.73 190.55,384.95 190.84,385.16 191.14,385.37 191.43,385.58 191.72,385.79 192.01,385.99 192.30,386.20 192.60,386.41 192.89,386.61 193.18,386.81 193.47,387.01 193.76,387.22 194.06,387.42 194.35,387.61 194.64,387.81 194.93,388.01 195.22,388.21 195.52,388.40 195.81,388.60 196.10,388.79 196.39,388.98 196.68,389.17 196.98,389.36 197.27,389.56 197.56,389.74 197.85,389.93 198.14,390.12 198.44,390.31 198.73,390.50 199.02,390.68 199.31,390.87 199.60,391.05 199.90,391.24 200.19,391.42 200.48,391.60 200.77,391.78 201.06,391.96 201.36,392.15 201.65,392.33 201.94,392.51 202.23,392.68 202.52,392.86 202.82,393.04 203.11,393.22 203.40,393.40 203.69,393.57 203.98,393.75 204.28,393.93 204.57,394.10 204.86,394.28 205.15,394.45 205.44,394.62 205.74,394.80 206.03,394.97 206.32,395.14 206.61,395.32 206.90,395.49 207.20,395.66 207.49,395.83 207.78,396.00 208.07,396.17 208.36,396.34 208.66,396.51 208.95,396.68 209.24,396.85 209.53,397.02 209.82,397.19 210.12,397.36 210.41,397.53 210.70,397.69 210.99,397.86 211.28,398.03 211.58,398.19 211.87,398.36 212.16,398.53 212.45,398.69 212.74,398.86 213.04,399.03 213.33,399.19 213.62,399.36 213.91,399.52 214.20,399.69 214.50,399.85 214.79,400.02 215.08,400.18 215.37,400.34 215.66,400.51 215.96,400.67 216.25,400.84 216.54,401.00 216.83,401.16 217.12,401.33 217.42,401.49 217.71,401.65 218.00,401.81" fill="none" stroke="#1b1b70" stroke-width="1.55" stroke-linejoin="round" />
</g>
<defs><clipPath id="clip36"><rect x="36.90" y="302.45" width="204.40" height="138.65"/></clipPath></defs>
<text x="137.40" y="465.40" font-size="9.7" fill="#000" font-weight="bold" text-anchor="middle" >Days of treatment</text>
<text transform="translate(7.9,448.6) rotate(-90)" font-size="9.2" font-weight="bold"><tspan letter-spacing="-0.32">Plasma</tspan><tspan letter-spacing="0.06">-free concentration </tspan><tspan letter-spacing="-0.08">(µmol/L)</tspan></text>
<text x="275.00" y="284.80" font-size="13.2" fill="#000" font-weight="bold" text-anchor="start" >D</text>
<line x1="288.60" y1="303.95" x2="288.60" y2="441.90" stroke="#111111" stroke-width="1.9" />
<line x1="287.80" y1="441.10" x2="493.63" y2="441.10" stroke="#111111" stroke-width="1.9" />
<line x1="287.00" y1="427.39" x2="288.60" y2="427.39" stroke="#111111" stroke-width="0.8" />
<line x1="287.00" y1="419.37" x2="288.60" y2="419.37" stroke="#111111" stroke-width="0.8" />
<line x1="287.00" y1="413.68" x2="288.60" y2="413.68" stroke="#111111" stroke-width="0.8" />
<line x1="287.00" y1="409.26" x2="288.60" y2="409.26" stroke="#111111" stroke-width="0.8" />
<line x1="287.00" y1="405.66" x2="288.60" y2="405.66" stroke="#111111" stroke-width="0.8" />
<line x1="287.00" y1="402.61" x2="288.60" y2="402.61" stroke="#111111" stroke-width="0.8" />
<line x1="287.00" y1="399.96" x2="288.60" y2="399.96" stroke="#111111" stroke-width="0.8" />
<line x1="287.00" y1="397.63" x2="288.60" y2="397.63" stroke="#111111" stroke-width="0.8" />
<line x1="287.00" y1="381.84" x2="288.60" y2="381.84" stroke="#111111" stroke-width="0.8" />
<line x1="287.00" y1="373.82" x2="288.60" y2="373.82" stroke="#111111" stroke-width="0.8" />
<line x1="287.00" y1="368.13" x2="288.60" y2="368.13" stroke="#111111" stroke-width="0.8" />
<line x1="287.00" y1="363.71" x2="288.60" y2="363.71" stroke="#111111" stroke-width="0.8" />
<line x1="287.00" y1="360.11" x2="288.60" y2="360.11" stroke="#111111" stroke-width="0.8" />
<line x1="287.00" y1="357.06" x2="288.60" y2="357.06" stroke="#111111" stroke-width="0.8" />
<line x1="287.00" y1="354.41" x2="288.60" y2="354.41" stroke="#111111" stroke-width="0.8" />
<line x1="287.00" y1="352.08" x2="288.60" y2="352.08" stroke="#111111" stroke-width="0.8" />
<line x1="287.00" y1="336.29" x2="288.60" y2="336.29" stroke="#111111" stroke-width="0.8" />
<line x1="287.00" y1="328.27" x2="288.60" y2="328.27" stroke="#111111" stroke-width="0.8" />
<line x1="287.00" y1="322.58" x2="288.60" y2="322.58" stroke="#111111" stroke-width="0.8" />
<line x1="287.00" y1="318.16" x2="288.60" y2="318.16" stroke="#111111" stroke-width="0.8" />
<line x1="287.00" y1="314.56" x2="288.60" y2="314.56" stroke="#111111" stroke-width="0.8" />
<line x1="287.00" y1="311.51" x2="288.60" y2="311.51" stroke="#111111" stroke-width="0.8" />
<line x1="287.00" y1="308.86" x2="288.60" y2="308.86" stroke="#111111" stroke-width="0.8" />
<line x1="287.00" y1="306.53" x2="288.60" y2="306.53" stroke="#111111" stroke-width="0.8" />
<line x1="286.00" y1="441.10" x2="288.60" y2="441.10" stroke="#111111" stroke-width="1.2" />
<text x="283.50" y="444.30" font-size="6.5" fill="#222222" font-weight="normal" text-anchor="end" textLength="14.15" lengthAdjust="spacingAndGlyphs">0.001</text>
<line x1="286.00" y1="395.55" x2="288.60" y2="395.55" stroke="#111111" stroke-width="1.2" />
<text x="283.50" y="398.75" font-size="6.5" fill="#222222" font-weight="normal" text-anchor="end" textLength="11.20" lengthAdjust="spacingAndGlyphs">0.01</text>
<line x1="286.00" y1="350.00" x2="288.60" y2="350.00" stroke="#111111" stroke-width="1.2" />
<text x="283.50" y="353.20" font-size="6.5" fill="#222222" font-weight="normal" text-anchor="end" textLength="8.25" lengthAdjust="spacingAndGlyphs">0.1</text>
<line x1="286.00" y1="304.45" x2="288.60" y2="304.45" stroke="#111111" stroke-width="1.2" />
<text x="283.50" y="307.65" font-size="6.5" fill="#222222" font-weight="normal" text-anchor="end" >1</text>
<line x1="288.60" y1="441.10" x2="288.60" y2="443.70" stroke="#111111" stroke-width="1.3" />
<text x="287.90" y="452.10" font-size="6.4" fill="#222222" font-weight="normal" text-anchor="middle" >0</text>
<line x1="317.78" y1="441.10" x2="317.78" y2="443.70" stroke="#111111" stroke-width="1.3" />
<text x="317.08" y="452.10" font-size="6.4" fill="#222222" font-weight="normal" text-anchor="middle" >5</text>
<line x1="346.95" y1="441.10" x2="346.95" y2="443.70" stroke="#111111" stroke-width="1.3" />
<text x="346.25" y="452.10" font-size="6.4" fill="#222222" font-weight="normal" text-anchor="middle" >10</text>
<line x1="376.12" y1="441.10" x2="376.12" y2="443.70" stroke="#111111" stroke-width="1.3" />
<text x="375.43" y="452.10" font-size="6.4" fill="#222222" font-weight="normal" text-anchor="middle" >15</text>
<line x1="405.30" y1="441.10" x2="405.30" y2="443.70" stroke="#111111" stroke-width="1.3" />
<text x="404.60" y="452.10" font-size="6.4" fill="#222222" font-weight="normal" text-anchor="middle" >20</text>
<line x1="434.48" y1="441.10" x2="434.48" y2="443.70" stroke="#111111" stroke-width="1.3" />
<text x="433.78" y="452.10" font-size="6.4" fill="#222222" font-weight="normal" text-anchor="middle" >25</text>
<line x1="463.65" y1="441.10" x2="463.65" y2="443.70" stroke="#111111" stroke-width="1.3" />
<text x="462.95" y="452.10" font-size="6.4" fill="#222222" font-weight="normal" text-anchor="middle" >30</text>
<line x1="492.83" y1="441.10" x2="492.83" y2="443.70" stroke="#111111" stroke-width="1.3" />
<text x="492.13" y="452.10" font-size="6.4" fill="#222222" font-weight="normal" text-anchor="middle" >35</text>
<line x1="289.85" y1="406.81" x2="494.33" y2="406.81" stroke="#3a3a3a" stroke-width="1.6" stroke-dasharray="2.1,2.18"/>
<g clip-path="url(#clip288)">
<polyline points="288.60,342.29 288.90,342.87 289.19,343.45 289.49,344.02 289.78,344.59 290.08,345.15 290.37,345.70 290.67,346.25 290.97,346.80 291.26,347.34 291.56,347.87 291.85,348.40 292.15,348.93 292.44,349.45 292.74,349.96 293.04,350.47 293.33,350.97 293.63,351.47 293.92,351.97 294.22,352.45 294.51,352.94 294.81,353.41 295.11,353.88 295.40,354.35 295.70,354.81 295.99,355.27 296.29,355.72 296.58,356.17 296.88,356.61 297.18,357.04 297.47,357.47 297.77,357.90 298.06,358.32 298.36,358.73 298.65,359.14 298.95,359.55 299.25,359.95 299.54,360.34 299.84,360.73 300.13,361.12 300.43,361.50 300.72,361.88 301.02,362.25 301.32,362.61 301.61,362.98 301.91,363.33 302.20,363.69 302.50,364.04 302.79,364.38 303.09,364.72 303.39,365.06 303.68,365.39 303.98,365.72 304.27,366.05 304.57,366.37 304.86,366.68 305.16,367.00 305.46,367.30 305.75,367.61 306.05,367.91 306.34,368.21 306.64,368.51 306.93,368.80 307.23,369.09 307.53,369.37 307.82,369.65 308.12,369.93 308.41,370.21 308.71,370.48 309.00,370.75 309.30,371.02 309.60,371.28 309.89,371.54 310.19,371.80 310.48,372.06 310.78,372.31 311.07,372.56 311.37,372.81 311.67,373.06 311.96,373.30 312.26,373.54 312.55,373.78 312.85,374.02 313.14,374.25 313.44,374.49 313.74,374.72 314.03,374.95 314.33,375.18 314.62,375.40 314.92,375.63 315.21,375.85 315.51,376.07 315.81,376.29 316.10,376.50 316.40,376.72 316.69,376.93 316.99,377.15 317.28,377.36 317.58,377.57 317.88,377.77 318.17,377.98 318.47,378.19 318.76,378.39 319.06,378.59 319.35,378.80 319.65,379.00 319.95,379.20 320.24,379.40 320.54,379.59 320.83,379.79 321.13,379.99 321.42,380.18 321.72,380.37 322.02,380.57 322.31,380.76 322.61,380.95 322.90,381.14 323.20,381.33 323.49,381.52 323.79,381.71 324.09,381.89 324.38,382.08 324.68,382.27 324.97,382.45 325.27,382.64 325.56,382.82 325.86,383.00 326.16,383.19 326.45,383.37 326.75,383.55 327.04,383.73 327.34,383.91 327.63,384.09 327.93,384.27 328.23,384.45 328.52,384.63 328.82,384.80 329.11,384.98 329.41,385.16 329.70,385.34 330.00,385.51 330.29,385.69 330.57,385.86 330.86,386.04 331.15,386.21 331.44,386.39 331.72,386.56 332.01,386.74 332.30,386.91 332.58,387.08 332.87,387.26 333.16,387.43 333.45,387.60 333.73,387.77 334.02,387.95 334.31,388.12 334.59,388.29 334.88,388.46 335.17,388.63 335.46,388.80 335.74,388.97 336.03,389.14 336.32,389.31 336.60,389.48 336.89,389.65 337.18,389.82 337.47,389.99 337.75,390.16 338.04,390.33 338.33,390.50 338.61,390.67 338.90,390.84 339.19,391.01 339.48,391.17 339.76,391.34 340.05,391.51 340.34,391.68 340.62,391.85 340.91,392.01 341.20,392.18 341.49,392.35 341.77,392.52 342.06,392.68 342.35,392.85 342.63,393.02 342.92,393.18 343.21,393.35 343.50,393.52 343.78,393.69 344.07,393.85 344.36,394.02 344.64,394.19 344.93,394.35 345.22,394.52 345.51,394.68 345.79,394.85 346.08,395.02 346.37,395.18 346.65,395.35 346.94,395.51 347.23,395.68 347.52,395.85 347.80,396.01 348.09,396.18 348.38,396.34 348.66,396.51 348.95,396.68 349.24,396.84 349.53,397.01 349.81,397.17 350.10,397.34 350.39,397.50 350.67,397.67 350.96,397.83 351.25,398.00 351.54,398.16 351.82,398.33 352.11,398.49 352.40,398.66 352.68,398.82 352.97,398.99 353.26,399.15 353.55,399.32 353.83,399.48 354.12,399.65 354.41,399.81 354.69,399.98 354.98,400.14 355.27,400.31 355.56,400.47 355.84,400.64 356.13,400.80 356.42,400.97 356.70,401.13 356.99,401.30 357.28,401.46 357.57,401.63 357.85,401.79 358.14,401.96 358.43,402.12 358.71,402.29 359.00,402.45 359.29,402.62 359.58,402.78 359.86,402.95 360.15,403.11 360.44,403.27 360.72,403.44 361.01,403.60 361.30,403.77 361.59,403.93 361.87,404.10 362.16,404.26 362.45,404.43 362.73,404.59 363.02,404.75 363.31,404.92 363.60,405.08 363.88,405.25 364.17,405.41 364.46,405.58 364.74,405.74 365.03,405.91 365.32,406.07 365.61,406.23 365.89,406.40 366.18,406.56 366.47,406.73 366.75,406.89 367.04,407.06 367.33,407.22 367.62,407.39 367.90,407.55 368.19,407.71 368.48,407.88 368.76,408.04 369.05,408.21 369.34,408.37 369.63,408.54 369.91,408.70 370.20,408.86 370.49,409.03 370.79,409.19 371.08,409.36 371.37,409.52 371.67,409.69 371.96,409.85 372.25,410.01 372.55,410.18 372.84,410.34 373.14,410.51 373.43,410.67 373.72,410.84 374.02,411.00 374.31,411.16 374.60,411.33 374.90,411.49 375.19,411.66 375.48,411.82 375.78,411.99 376.07,412.15 376.37,412.31 376.66,412.48 376.95,412.64 377.25,412.81 377.54,412.97 377.83,413.14 378.13,413.30 378.42,413.46 378.71,413.63 379.01,413.79 379.30,413.96 379.59,414.12 379.89,414.29 380.18,414.45 380.48,414.61 380.77,414.78 381.06,414.94 381.36,415.11 381.65,415.27 381.94,415.43 382.24,415.60 382.53,415.76 382.82,415.93 383.12,416.09 383.41,416.26 383.70,416.42 384.00,416.58 384.29,416.75 384.58,416.91 384.88,417.08 385.17,417.24 385.47,417.41 385.76,417.57 386.05,417.73 386.35,417.90 386.64,418.06 386.93,418.23 387.23,418.39 387.52,418.56 387.81,418.72 388.11,418.88 388.40,419.05 388.69,419.21 388.99,419.38 389.28,419.54 389.58,419.70 389.87,419.87 390.16,420.03 390.46,420.20 390.75,420.36 391.04,420.53 391.34,420.69 391.63,420.85 391.92,421.02 392.22,421.18 392.51,421.35 392.81,421.51 393.10,421.67 393.39,421.84 393.69,422.00 393.98,422.17 394.27,422.33 394.57,422.50 394.86,422.66 395.15,422.82 395.45,422.99 395.74,423.15 396.03,423.32 396.33,423.48 396.62,423.65 396.92,423.81 397.21,423.97 397.50,424.14 397.80,424.30 398.09,424.47 398.38,424.63 398.68,424.79 398.97,424.96 399.26,425.12 399.56,425.29 399.85,425.45 400.14,425.62 400.44,425.78 400.73,425.94 401.03,426.11 401.32,426.27 401.61,426.44 401.91,426.60 402.20,426.77 402.49,426.93 402.79,427.09 403.08,427.26 403.37,427.42 403.67,427.59 403.96,427.75 404.25,427.91 404.55,428.08 404.84,428.24 405.14,428.41 405.43,428.57 405.72,428.74 406.02,428.90 406.31,429.06 406.60,429.23 406.90,429.39 407.19,429.56 407.48,429.72 407.78,429.88 408.07,430.05 408.36,430.21 408.66,430.38 408.95,430.54 409.25,430.71 409.54,430.87 409.83,431.03 410.13,431.20 410.42,431.36 410.71,431.53 411.01,431.69 410.80,431.86 411.80,343.46 411.88,343.23 412.18,343.79 412.47,344.36 412.76,344.91 413.05,345.46 413.34,346.01 413.63,346.55 413.93,347.08 414.22,347.61 414.51,348.14 414.80,348.66 415.09,349.17 415.38,349.68 415.68,350.19 415.97,350.69 416.26,351.18 416.55,351.67 416.84,352.15 417.14,352.63 417.43,353.10 417.72,353.57 418.01,354.03 418.30,354.49 418.59,354.94 418.89,355.38 419.18,355.82 419.47,356.26 419.76,356.69 420.05,357.12 420.34,357.54 420.64,357.95 420.93,358.36 421.22,358.77 421.51,359.17 421.80,359.56 422.09,359.95 422.39,360.34 422.68,360.72 422.97,361.10 423.26,361.47 423.55,361.84 423.85,362.20 424.14,362.56 424.43,362.91 424.72,363.26 425.01,363.61 425.30,363.95 425.60,364.29 425.89,364.62 426.18,364.95 426.47,365.27 426.76,365.59 427.05,365.91 427.35,366.22 427.64,366.53 427.93,366.84 428.22,367.14 428.51,367.44 428.81,367.73 429.10,368.03 429.39,368.32 429.68,368.60 429.97,368.88 430.26,369.16 430.56,369.44 430.85,369.71 431.14,369.98 431.43,370.25 431.72,370.51 432.01,370.77 432.31,371.03 432.60,371.29 432.89,371.54 433.18,371.79 433.47,372.04 433.76,372.29 434.06,372.53 434.35,372.78 434.64,373.02 434.93,373.25 435.22,373.49 435.52,373.72 435.81,373.95 436.10,374.18 436.39,374.41 436.68,374.64 436.97,374.86 437.27,375.08 437.56,375.30 437.85,375.52 438.14,375.74 438.43,375.95 438.72,376.17 439.02,376.38 439.31,376.59 439.60,376.80 439.89,377.01 440.18,377.22 440.48,377.42 440.77,377.63 441.06,377.83 441.35,378.03 441.64,378.23 441.93,378.43 442.23,378.63 442.52,378.83 442.81,379.03 443.10,379.22 443.39,379.42 443.68,379.61 443.98,379.80 444.27,380.00 444.56,380.19 444.85,380.38 445.14,380.57 445.43,380.76 445.73,380.94 446.02,381.13 446.31,381.32 446.60,381.50 446.89,381.69 447.19,381.87 447.48,382.06 447.77,382.24 448.06,382.42 448.35,382.60 448.64,382.79 448.94,382.97 449.23,383.15 449.52,383.33 449.81,383.51 450.10,383.69 450.39,383.86 450.69,384.04 450.98,384.22 451.27,384.40 451.56,384.57 451.85,384.75 452.15,384.93 452.44,385.10 452.73,385.28 453.02,385.45 453.31,385.63 453.60,385.80 453.90,385.98 454.19,386.15 454.48,386.32 454.77,386.49 455.06,386.67 455.35,386.84 455.65,387.01 455.94,387.18 456.23,387.36 456.52,387.53 456.81,387.70 457.10,387.87 457.40,388.04 457.69,388.21 457.98,388.38 458.27,388.55 458.56,388.72 458.86,388.89 459.15,389.06 459.44,389.23 459.73,389.40 460.02,389.57 460.31,389.74 460.61,389.91 460.90,390.08 461.19,390.24 461.48,390.41 461.77,390.58 462.06,390.75 462.36,390.92 462.65,391.08 462.94,391.25 463.23,391.42 463.52,391.59 463.82,391.75 464.11,391.92 464.40,392.09 464.69,392.26 464.98,392.42 465.27,392.59 465.57,392.76 465.86,392.92 466.15,393.09 466.44,393.26 466.73,393.42 467.02,393.59 467.32,393.76 467.61,393.92 467.90,394.09 468.19,394.26 468.48,394.42 468.77,394.59 469.07,394.75 469.36,394.92 469.65,395.09" fill="none" stroke="#d946d0" stroke-width="1.55" stroke-linejoin="round" />
<polyline points="288.60,342.29 288.90,342.87 289.19,343.45 289.49,344.02 289.78,344.59 290.08,345.15 290.37,345.70 290.67,346.25 290.97,346.80 291.26,347.34 291.56,347.87 291.85,348.40 292.15,348.93 292.44,349.45 292.74,349.96 293.04,350.47 293.33,350.97 293.63,351.47 293.92,351.97 294.22,352.45 294.51,352.94 294.81,353.41 295.11,353.88 295.40,354.35 295.70,354.81 295.99,355.27 296.29,355.72 296.58,356.17 296.88,356.61 297.18,357.04 297.47,357.47 297.77,357.90 298.06,358.32 298.36,358.73 298.65,359.14 298.95,359.55 299.25,359.95 299.54,360.34 299.84,360.73 300.13,361.12 300.43,361.50 300.72,361.88 301.02,362.25 301.32,362.61 301.61,362.98 301.91,363.33 302.20,363.69 302.50,364.04 302.79,364.38 303.09,364.72 303.39,365.06 303.68,365.39 303.98,365.72 304.27,366.05 304.57,366.37 304.86,366.68 305.16,367.00 305.46,367.30 305.75,367.61 306.05,367.91 306.34,368.21 306.64,368.51 306.93,368.80 307.23,369.09 307.53,369.37 307.82,369.65 308.12,369.93 308.41,370.21 308.71,370.48 309.00,370.75 309.30,371.02 309.60,371.28 309.89,371.54 310.19,371.80 310.48,372.06 310.78,372.31 311.07,372.56 311.37,372.81 311.67,373.06 311.96,373.30 312.26,373.54 312.55,373.78 312.85,374.02 313.14,374.25 313.44,374.49 313.74,374.72 314.03,374.95 314.33,375.18 314.62,375.40 314.92,375.63 315.21,375.85 315.51,376.07 315.81,376.29 316.10,376.50 316.40,376.72 316.69,376.93 316.99,377.15 317.28,377.36 317.58,377.57 317.88,377.77 318.17,377.98 318.47,378.19 318.76,378.39 319.06,378.59 319.35,378.80 319.65,379.00 319.95,379.20 320.24,379.40 320.54,379.59 320.83,379.79 321.13,379.99 321.42,380.18 321.72,380.37 322.02,380.57 322.31,380.76 322.61,380.95 322.90,381.14 323.20,381.33 323.49,381.52 323.79,381.71 324.09,381.89 324.38,382.08 324.68,382.27 324.97,382.45 325.27,382.64 325.56,382.82 325.86,383.00 326.16,383.19 326.45,383.37 326.75,383.55 327.04,383.73 327.34,383.91 327.63,384.09 327.93,384.27 328.23,384.45 328.52,384.63 328.82,384.80 329.11,384.98 329.41,385.16 329.70,385.34 330.00,385.51 330.29,385.69 330.57,385.86 330.86,386.04 331.15,386.21 331.44,386.39 331.72,386.56 332.01,386.74 332.30,386.91 332.58,387.08 332.87,387.26 333.16,387.43 333.45,387.60 333.73,387.77 334.02,387.95 334.31,388.12 334.59,388.29 334.88,388.46 335.17,388.63 335.46,388.80 335.74,388.97 336.03,389.14 336.32,389.31 336.60,389.48 336.89,389.65 337.18,389.82 337.47,389.99 337.75,390.16 338.04,390.33 338.33,390.50 338.61,390.67 338.90,390.84 339.19,391.01 339.48,391.17 339.76,391.34 340.05,391.51 340.34,391.68 340.62,391.85 340.91,392.01 341.20,392.18 341.49,392.35 341.77,392.52 342.06,392.68 342.35,392.85 342.63,393.02 342.92,393.18 343.21,393.35 343.50,393.52 343.78,393.69 344.07,393.85 344.36,394.02 344.64,394.19 344.93,394.35 345.22,394.52 345.51,394.68 345.79,394.85 346.08,395.02 346.37,395.18 346.65,395.35 346.94,395.51 347.23,395.68 347.52,395.85 347.80,396.01 348.09,396.18 348.38,396.34 348.66,396.51 348.95,396.68 349.24,396.84 349.53,397.01 349.81,397.17 350.10,397.34 350.39,397.50 350.67,397.67 350.96,397.83 351.25,398.00 351.54,398.16 351.82,398.33 352.11,398.49 352.40,398.66 352.68,398.82 352.97,398.99 353.26,399.15 353.55,399.32 353.83,399.48 354.12,399.65 354.41,399.81 354.69,399.98 354.98,400.14 355.27,400.31 355.56,400.47 355.84,400.64 356.13,400.80 356.42,400.97 356.70,401.13 356.99,401.30 357.28,401.46 357.57,401.63 357.85,401.79 358.14,401.96 358.43,402.12 358.71,402.29 359.00,402.45 359.29,402.62 359.58,402.78 359.86,402.95 360.15,403.11 360.44,403.27 360.72,403.44 361.01,403.60 361.30,403.77 361.59,403.93 361.87,404.10 362.16,404.26 362.45,404.43 362.73,404.59 363.02,404.75 363.31,404.92 363.60,405.08 363.88,405.25 364.17,405.41 364.46,405.58 364.74,405.74 365.03,405.91 365.32,406.07 365.61,406.23 365.89,406.40 366.18,406.56 366.47,406.73 366.75,406.89 367.04,407.06 367.33,407.22 367.62,407.39 367.90,407.55 368.19,407.71 368.48,407.88 368.76,408.04 369.05,408.21 369.34,408.37 369.63,408.54 369.91,408.70 369.70,408.86 370.70,342.97 370.79,342.75 371.08,343.31 371.37,343.86 371.67,344.40 371.96,344.94 372.25,345.48 372.55,346.01 372.84,346.54 373.14,347.06 373.43,347.57 373.72,348.08 374.02,348.59 374.31,349.08 374.60,349.58 374.90,350.07 375.19,350.55 375.48,351.03 375.78,351.50 376.07,351.97 376.37,352.43 376.66,352.89 376.95,353.34 377.25,353.79 377.54,354.23 377.83,354.66 378.13,355.09 378.42,355.52 378.71,355.94 379.01,356.36 379.30,356.77 379.59,357.17 379.89,357.57 380.18,357.97 380.48,358.36 380.77,358.75 381.06,359.13 381.36,359.51 381.65,359.88 381.94,360.25 382.24,360.61 382.53,360.97 382.82,361.32 383.12,361.67 383.41,362.02 383.70,362.36 384.00,362.70 384.29,363.03 384.58,363.36 384.88,363.68 385.17,364.00 385.47,364.32 385.76,364.63 386.05,364.94 386.35,365.25 386.64,365.55 386.93,365.85 387.23,366.15 387.52,366.44 387.81,366.73 388.11,367.01 388.40,367.30 388.69,367.58 388.99,367.85 389.28,368.12 389.58,368.39 389.87,368.66 390.16,368.93 390.46,369.19 390.75,369.45 391.04,369.70 391.34,369.96 391.63,370.21 391.92,370.46 392.22,370.71 392.51,370.95 392.81,371.19 393.10,371.43 393.39,371.67 393.69,371.90 393.98,372.14 394.27,372.37 394.57,372.60 394.86,372.83 395.15,373.05 395.45,373.28 395.74,373.50 396.03,373.72 396.33,373.94 396.62,374.16 396.92,374.37 397.21,374.59 397.50,374.80 397.80,375.01 398.09,375.22 398.38,375.43 398.68,375.64 398.97,375.84 399.26,376.05 399.56,376.25 399.85,376.45 400.14,376.65 400.44,376.85 400.73,377.05 401.03,377.25 401.32,377.45 401.61,377.64 401.91,377.84 402.20,378.03 402.49,378.22 402.79,378.42 403.08,378.61 403.37,378.80 403.67,378.99 403.96,379.18 404.25,379.36 404.55,379.55 404.84,379.74 405.14,379.92 405.43,380.11 405.72,380.29 406.02,380.48 406.31,380.66 406.60,380.84 406.90,381.02 407.19,381.21 407.48,381.39 407.78,381.57 408.07,381.75 408.36,381.93 408.66,382.11 408.95,382.28 409.25,382.46 409.54,382.64 409.83,382.82 410.13,382.99 410.42,383.17 410.71,383.35 411.01,383.52 411.30,383.70 411.59,383.87 411.88,384.05 412.18,384.22 412.47,384.40 412.76,384.57 413.05,384.74 413.34,384.92 413.63,385.09 413.93,385.26 414.22,385.43 414.51,385.60 414.80,385.78 415.09,385.95 415.38,386.12 415.68,386.29 415.97,386.46 416.26,386.63 416.55,386.80 416.84,386.97 417.14,387.14 417.43,387.31 417.72,387.48 418.01,387.65 418.30,387.82 418.59,387.99 418.89,388.16 419.18,388.33 419.47,388.50 419.76,388.66 420.05,388.83 420.34,389.00 420.64,389.17 420.93,389.34 421.22,389.51 421.51,389.67 421.80,389.84 422.09,390.01 422.39,390.18 422.68,390.34 422.97,390.51 423.26,390.68 423.55,390.84 423.85,391.01 424.14,391.18 424.43,391.35 424.72,391.51 425.01,391.68 425.30,391.84 425.60,392.01 425.89,392.18 426.18,392.34 426.47,392.51 426.76,392.68 427.05,392.84 427.35,393.01 427.64,393.17 427.93,393.34 428.22,393.51 428.51,393.67 428.81,393.84 429.10,394.00 429.39,394.17 429.68,394.34 429.97,394.50 430.26,394.67 430.56,394.83 430.85,395.00 431.14,395.16 431.43,395.33 431.72,395.49 432.01,395.66 432.31,395.82 432.60,395.99 432.89,396.15 433.18,396.32 433.47,396.48 433.76,396.65 434.06,396.81 434.35,396.98 434.64,397.14 434.93,397.31 435.22,397.47 435.52,397.64 435.81,397.80 436.10,397.97 436.39,398.13 436.68,398.30 436.97,398.46 437.27,398.63 437.56,398.79 437.85,398.96 438.14,399.12 438.43,399.29 438.72,399.45 439.02,399.62 439.31,399.78 439.60,399.95 439.89,400.11 440.18,400.28 440.48,400.44 440.77,400.61 441.06,400.77 441.35,400.93 441.64,401.10 441.93,401.26 442.23,401.43 442.52,401.59 442.81,401.76 443.10,401.92 443.39,402.09 443.68,402.25 443.98,402.41 444.27,402.58 444.56,402.74 444.85,402.91 445.14,403.07 445.43,403.24 445.73,403.40 446.02,403.57 446.31,403.73 446.60,403.89 446.89,404.06 447.19,404.22 447.48,404.39 447.77,404.55 448.06,404.72 448.35,404.88 448.64,405.05 448.94,405.21 449.23,405.37 449.52,405.54 449.81,405.70 450.10,405.87 450.39,406.03 450.69,406.20 450.98,406.36 451.27,406.52 451.56,406.69 451.85,406.85 452.15,407.02 452.44,407.18 452.73,407.35 453.02,407.51 453.31,407.67 453.60,407.84 453.90,408.00 454.19,408.17 454.48,408.33 454.77,408.50 455.06,408.66 455.35,408.82 455.65,408.99 455.94,409.15 456.23,409.32 456.52,409.48 456.81,409.65 457.10,409.81 457.40,409.97 457.69,410.14 457.98,410.30 458.27,410.47 458.56,410.63 458.86,410.80 459.15,410.96 459.44,411.12 459.73,411.29 460.02,411.45 460.31,411.62 460.61,411.78 460.90,411.95 461.19,412.11 461.48,412.27 461.77,412.44 462.06,412.60 462.36,412.77 462.65,412.93 462.94,413.10 463.23,413.26 463.52,413.42 463.82,413.59 464.11,413.75 464.40,413.92 464.69,414.08 464.98,414.24 465.27,414.41 465.57,414.57 465.86,414.74 466.15,414.90 466.44,415.07 466.73,415.23 467.02,415.39 467.32,415.56 467.61,415.72 467.90,415.89 468.19,416.05 468.48,416.22 468.77,416.38 469.07,416.54 469.36,416.71 469.65,416.87" fill="none" stroke="#1c7226" stroke-width="1.55" stroke-linejoin="round" />
<polyline points="288.60,342.29 288.90,342.87 289.19,343.45 289.49,344.02 289.78,344.59 290.08,345.15 290.37,345.70 290.67,346.25 290.97,346.80 291.26,347.34 291.56,347.87 291.85,348.40 292.15,348.93 292.44,349.45 292.74,349.96 293.04,350.47 293.33,350.97 293.63,351.47 293.92,351.97 294.22,352.45 294.51,352.94 294.81,353.41 295.11,353.88 295.40,354.35 295.70,354.81 295.99,355.27 296.29,355.72 296.58,356.17 296.88,356.61 297.18,357.04 297.47,357.47 297.77,357.90 298.06,358.32 298.36,358.73 298.65,359.14 298.95,359.55 299.25,359.95 299.54,360.34 299.84,360.73 300.13,361.12 300.43,361.50 300.72,361.88 301.02,362.25 301.32,362.61 301.61,362.98 301.91,363.33 302.20,363.69 302.50,364.04 302.79,364.38 303.09,364.72 303.39,365.06 303.68,365.39 303.98,365.72 304.27,366.05 304.57,366.37 304.86,366.68 305.16,367.00 305.46,367.30 305.75,367.61 306.05,367.91 306.34,368.21 306.64,368.51 306.93,368.80 307.23,369.09 307.53,369.37 307.82,369.65 308.12,369.93 308.41,370.21 308.71,370.48 309.00,370.75 309.30,371.02 309.60,371.28 309.89,371.54 310.19,371.80 310.48,372.06 310.78,372.31 311.07,372.56 311.37,372.81 311.67,373.06 311.96,373.30 312.26,373.54 312.55,373.78 312.85,374.02 313.14,374.25 313.44,374.49 313.74,374.72 314.03,374.95 314.33,375.18 314.62,375.40 314.92,375.63 315.21,375.85 315.51,376.07 315.81,376.29 316.10,376.50 316.40,376.72 316.69,376.93 316.99,377.15 317.28,377.36 317.58,377.57 317.88,377.77 318.17,377.98 318.47,378.19 318.76,378.39 319.06,378.59 319.35,378.80 319.65,379.00 319.95,379.20 320.24,379.40 320.54,379.59 320.83,379.79 321.13,379.99 321.42,380.18 321.72,380.37 322.02,380.57 322.31,380.76 322.61,380.95 322.90,381.14 323.20,381.33 323.49,381.52 323.79,381.71 324.09,381.89 324.38,382.08 324.68,382.27 324.97,382.45 325.27,382.64 325.56,382.82 325.86,383.00 326.16,383.19 326.45,383.37 326.75,383.55 327.04,383.73 327.34,383.91 327.63,384.09 327.93,384.27 328.23,384.45 328.52,384.63 328.82,384.80 329.11,384.98 329.41,385.16 329.70,385.34 329.50,385.51 330.50,341.47 330.57,341.26 330.86,341.79 331.15,342.31 331.44,342.83 331.72,343.34 332.01,343.85 332.30,344.35 332.58,344.85 332.87,345.34 333.16,345.83 333.45,346.31 333.73,346.78 334.02,347.26 334.31,347.72 334.59,348.18 334.88,348.64 335.17,349.09 335.46,349.53 335.74,349.97 336.03,350.40 336.32,350.83 336.60,351.26 336.89,351.68 337.18,352.09 337.47,352.50 337.75,352.90 338.04,353.30 338.33,353.70 338.61,354.09 338.90,354.47 339.19,354.85 339.48,355.22 339.76,355.60 340.05,355.96 340.34,356.32 340.62,356.68 340.91,357.03 341.20,357.38 341.49,357.72 341.77,358.06 342.06,358.40 342.35,358.73 342.63,359.06 342.92,359.38 343.21,359.70 343.50,360.02 343.78,360.33 344.07,360.64 344.36,360.94 344.64,361.24 344.93,361.54 345.22,361.84 345.51,362.13 345.79,362.41 346.08,362.70 346.37,362.98 346.65,363.26 346.94,363.53 347.23,363.81 347.52,364.07 347.80,364.34 348.09,364.60 348.38,364.87 348.66,365.12 348.95,365.38 349.24,365.63 349.53,365.88 349.81,366.13 350.10,366.38 350.39,366.62 350.67,366.86 350.96,367.10 351.25,367.34 351.54,367.57 351.82,367.81 352.11,368.04 352.40,368.26 352.68,368.49 352.97,368.72 353.26,368.94 353.55,369.16 353.83,369.38 354.12,369.60 354.41,369.82 354.69,370.03 354.98,370.25 355.27,370.46 355.56,370.67 355.84,370.88 356.13,371.09 356.42,371.29 356.70,371.50 356.99,371.70 357.28,371.91 357.57,372.11 357.85,372.31 358.14,372.51 358.43,372.71 358.71,372.90 359.00,373.10 359.29,373.29 359.58,373.49 359.86,373.68 360.15,373.88 360.44,374.07 360.72,374.26 361.01,374.45 361.30,374.64 361.59,374.83 361.87,375.01 362.16,375.20 362.45,375.39 362.73,375.57 363.02,375.76 363.31,375.94 363.60,376.13 363.88,376.31 364.17,376.49 364.46,376.67 364.74,376.85 365.03,377.03 365.32,377.22 365.61,377.39 365.89,377.57 366.18,377.75 366.47,377.93 366.75,378.11 367.04,378.29 367.33,378.46 367.62,378.64 367.90,378.82 368.19,378.99 368.48,379.17 368.76,379.34 369.05,379.52 369.34,379.69 369.63,379.87 369.91,380.04 369.70,380.21 370.70,340.84 370.79,340.63 371.08,341.15 371.37,341.66 371.67,342.17 371.96,342.67 372.25,343.16 372.55,343.65 372.84,344.14 373.14,344.62 373.43,345.10 373.72,345.56 374.02,346.03 374.31,346.49 374.60,346.94 374.90,347.39 375.19,347.83 375.48,348.27 375.78,348.71 376.07,349.13 376.37,349.56 376.66,349.98 376.95,350.39 377.25,350.80 377.54,351.20 377.83,351.60 378.13,351.99 378.42,352.38 378.71,352.76 379.01,353.14 379.30,353.52 379.59,353.88 379.89,354.25 380.18,354.61 380.48,354.97 380.77,355.32 381.06,355.67 381.36,356.01 381.65,356.35 381.94,356.68 382.24,357.01 382.53,357.34 382.82,357.66 383.12,357.98 383.41,358.30 383.70,358.61 384.00,358.92 384.29,359.22 384.58,359.52 384.88,359.82 385.17,360.11 385.47,360.40 385.76,360.69 386.05,360.97 386.35,361.25 386.64,361.53 386.93,361.80 387.23,362.08 387.52,362.34 387.81,362.61 388.11,362.87 388.40,363.13 388.69,363.39 388.99,363.65 389.28,363.90 389.58,364.15 389.87,364.40 390.16,364.64 390.46,364.88 390.75,365.13 391.04,365.36 391.34,365.60 391.63,365.84 391.92,366.07 392.22,366.30 392.51,366.53 392.81,366.75 393.10,366.98 393.39,367.20 393.69,367.42 393.98,367.64 394.27,367.86 394.57,368.08 394.86,368.29 395.15,368.50 395.45,368.72 395.74,368.93 396.03,369.14 396.33,369.34 396.62,369.55 396.92,369.76 397.21,369.96 397.50,370.16 397.80,370.36 398.09,370.56 398.38,370.76 398.68,370.96 398.97,371.16 399.26,371.35 399.56,371.55 399.85,371.74 400.14,371.94 400.44,372.13 400.73,372.32 401.03,372.51 401.32,372.70 401.61,372.89 401.91,373.08 402.20,373.27 402.49,373.45 402.79,373.64 403.08,373.83 403.37,374.01 403.67,374.19 403.96,374.38 404.25,374.56 404.55,374.74 404.84,374.93 405.14,375.11 405.43,375.29 405.72,375.47 406.02,375.65 406.31,375.83 406.60,376.00 406.90,376.18 407.19,376.36 407.48,376.54 407.78,376.72 408.07,376.89 408.36,377.07 408.66,377.24 408.95,377.42 409.25,377.59 409.54,377.77 409.83,377.94 410.13,378.12 410.42,378.29 410.71,378.46 411.01,378.64 410.80,378.81 411.80,340.64 411.88,340.44 412.18,340.95 412.47,341.46 412.76,341.96 413.05,342.46 413.34,342.95 413.63,343.44 413.93,343.92 414.22,344.40 414.51,344.87 414.80,345.34 415.09,345.80 415.38,346.25 415.68,346.70 415.97,347.15 416.26,347.59 416.55,348.03 416.84,348.46 417.14,348.88 417.43,349.30 417.72,349.71 418.01,350.12 418.30,350.53 418.59,350.93 418.89,351.32 419.18,351.71 419.47,352.10 419.76,352.48 420.05,352.85 420.34,353.23 420.64,353.59 420.93,353.95 421.22,354.31 421.51,354.67 421.80,355.01 422.09,355.36 422.39,355.70 422.68,356.04 422.97,356.37 423.26,356.70 423.55,357.02 423.85,357.34 424.14,357.66 424.43,357.97 424.72,358.28 425.01,358.58 425.30,358.88 425.60,359.18 425.89,359.48 426.18,359.77 426.47,360.06 426.76,360.34 427.05,360.62 427.35,360.90 427.64,361.18 427.93,361.45 428.22,361.72 428.51,361.99 428.81,362.25 429.10,362.51 429.39,362.77 429.68,363.03 429.97,363.28 430.26,363.53 430.56,363.78 430.85,364.03 431.14,364.27 431.43,364.51 431.72,364.75 432.01,364.99 432.31,365.22 432.60,365.46 432.89,365.69 433.18,365.92 433.47,366.14 433.76,366.37 434.06,366.59 434.35,366.81 434.64,367.03 434.93,367.25 435.22,367.47 435.52,367.68 435.81,367.90 436.10,368.11 436.39,368.32 436.68,368.53 436.97,368.74 437.27,368.95 437.56,369.15 437.85,369.36 438.14,369.56 438.43,369.76 438.72,369.96 439.02,370.16 439.31,370.36 439.60,370.56 439.89,370.75 440.18,370.95 440.48,371.14 440.77,371.34 441.06,371.53 441.35,371.72 441.64,371.91 441.93,372.10 442.23,372.29 442.52,372.48 442.81,372.67 443.10,372.86 443.39,373.04 443.68,373.23 443.98,373.41 444.27,373.60 444.56,373.78 444.85,373.97 445.14,374.15 445.43,374.33 445.73,374.51 446.02,374.69 446.31,374.87 446.60,375.05 446.89,375.23 447.19,375.41 447.48,375.59 447.77,375.77 448.06,375.94 448.35,376.12 448.64,376.30 448.94,376.48 449.23,376.65 449.52,376.83 449.81,377.00 450.10,377.18 450.39,377.35 450.69,377.53 450.98,377.70 451.27,377.87 451.56,378.05 451.85,378.22 452.15,378.39 452.44,378.56 452.73,378.74 453.02,378.91 453.31,379.08 453.60,379.25 453.90,379.42 454.19,379.59 454.48,379.76 454.77,379.93 455.06,380.11 455.35,380.28 455.65,380.45 455.94,380.62 456.23,380.78 456.52,380.95 456.81,381.12 457.10,381.29 457.40,381.46 457.69,381.63 457.98,381.80 458.27,381.97 458.56,382.14 458.86,382.30 459.15,382.47 459.44,382.64 459.73,382.81 460.02,382.98 460.31,383.14 460.61,383.31 460.90,383.48 461.19,383.65 461.48,383.81 461.77,383.98 462.06,384.15 462.36,384.31 462.65,384.48 462.94,384.65 463.23,384.81 463.52,384.98 463.82,385.15 464.11,385.31 464.40,385.48 464.69,385.65 464.98,385.81 465.27,385.98 465.57,386.14 465.86,386.31 466.15,386.48 466.44,386.64 466.73,386.81 467.02,386.97 467.32,387.14 467.61,387.31 467.90,387.47 468.19,387.64 468.48,387.80 468.77,387.97 469.07,388.13 469.36,388.30 469.65,388.46" fill="none" stroke="#941515" stroke-width="1.55" stroke-linejoin="round" />
</g>
<defs><clipPath id="clip288"><rect x="288.60" y="302.45" width="204.23" height="138.65"/></clipPath></defs>
<text x="391.02" y="465.40" font-size="9.7" fill="#000" font-weight="bold" text-anchor="middle" >Days of treatment</text>
<text transform="translate(259.1,448.6) rotate(-90)" font-size="9.2" font-weight="bold"><tspan letter-spacing="-0.32">Plasma</tspan><tspan letter-spacing="0.06">-free concentration </tspan><tspan letter-spacing="-0.08">(µmol/L)</tspan></text>
</svg>
</body></html>
